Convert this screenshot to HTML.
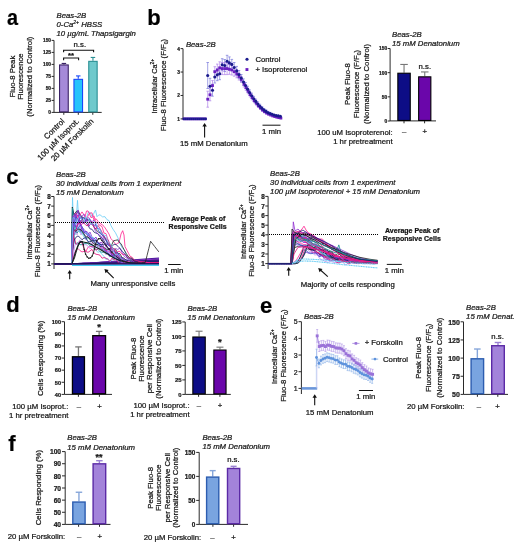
<!DOCTYPE html>
<html><head><meta charset="utf-8"><style>
html,body{margin:0;padding:0;background:#fff;}
svg{display:block;font-family:"Liberation Sans",sans-serif;filter:blur(0.3px);}
text{stroke:#1a1a1a;stroke-width:0.24px;}
text.nl{stroke:none;}
</style></head><body>
<svg width="518" height="550" viewBox="0 0 518 550">
<rect width="518" height="550" fill="#fff"/>
<text x="7.1" y="24.8" font-size="21.5" font-weight="bold" fill="#000" textLength="11.0" lengthAdjust="spacingAndGlyphs">a</text>
<text x="56.50" y="17.60" font-size="7.75" font-style="italic" fill="#1a1a1a">Beas-2B</text>
<text x="56.50" y="26.80" font-size="7.75" font-style="italic" fill="#1a1a1a">0-Ca<tspan dy="-3" font-size="5">2+</tspan><tspan dy="3"> HBSS</tspan></text>
<text x="56.50" y="36.00" font-size="7.75" font-style="italic" fill="#1a1a1a">10 µg/mL Thapsigargin</text>
<line x1="54.00" y1="40.40" x2="54.00" y2="112.40" stroke="#2a2a2a" stroke-width="1.0"/>
<line x1="51.60" y1="112.40" x2="54.00" y2="112.40" stroke="#2a2a2a" stroke-width="1.0"/>
<text x="51.00" y="114.32" font-size="4.8" text-anchor="end" font-weight="bold" fill="#222">0</text>
<line x1="51.60" y1="100.40" x2="54.00" y2="100.40" stroke="#2a2a2a" stroke-width="1.0"/>
<text x="51.00" y="102.32" font-size="4.8" text-anchor="end" font-weight="bold" fill="#222">25</text>
<line x1="51.60" y1="88.40" x2="54.00" y2="88.40" stroke="#2a2a2a" stroke-width="1.0"/>
<text x="51.00" y="90.32" font-size="4.8" text-anchor="end" font-weight="bold" fill="#222">50</text>
<line x1="51.60" y1="76.40" x2="54.00" y2="76.40" stroke="#2a2a2a" stroke-width="1.0"/>
<text x="51.00" y="78.32" font-size="4.8" text-anchor="end" font-weight="bold" fill="#222">75</text>
<line x1="51.60" y1="64.40" x2="54.00" y2="64.40" stroke="#2a2a2a" stroke-width="1.0"/>
<text x="51.00" y="66.32" font-size="4.8" text-anchor="end" font-weight="bold" fill="#222">100</text>
<line x1="51.60" y1="52.40" x2="54.00" y2="52.40" stroke="#2a2a2a" stroke-width="1.0"/>
<text x="51.00" y="54.32" font-size="4.8" text-anchor="end" font-weight="bold" fill="#222">125</text>
<line x1="51.60" y1="40.40" x2="54.00" y2="40.40" stroke="#2a2a2a" stroke-width="1.0"/>
<text x="51.00" y="42.32" font-size="4.8" text-anchor="end" font-weight="bold" fill="#222">150</text>
<line x1="54.00" y1="112.40" x2="101.70" y2="112.40" stroke="#2a2a2a" stroke-width="1.0"/>
<line x1="63.80" y1="112.40" x2="63.80" y2="114.80" stroke="#2a2a2a" stroke-width="1.0"/>
<line x1="78.30" y1="112.40" x2="78.30" y2="114.80" stroke="#2a2a2a" stroke-width="1.0"/>
<line x1="92.80" y1="112.40" x2="92.80" y2="114.80" stroke="#2a2a2a" stroke-width="1.0"/>
<line x1="63.90" y1="64.40" x2="63.90" y2="63.44" stroke="#3a2266" stroke-width="1.1"/>
<line x1="61.65" y1="63.44" x2="66.15" y2="63.44" stroke="#3a2266" stroke-width="1.1"/>
<rect x="59.55" y="64.95" width="8.70" height="46.90" fill="#a58ad8" stroke="#3a2266" stroke-width="1.1"/>
<line x1="78.25" y1="78.80" x2="78.25" y2="75.92" stroke="#1848f8" stroke-width="1.1"/>
<line x1="76.00" y1="75.92" x2="80.50" y2="75.92" stroke="#1848f8" stroke-width="1.1"/>
<rect x="73.95" y="79.35" width="8.60" height="32.50" fill="#25c3fb" stroke="#1848f8" stroke-width="1.1"/>
<line x1="92.95" y1="60.80" x2="92.95" y2="57.44" stroke="#2a8f94" stroke-width="1.1"/>
<line x1="90.70" y1="57.44" x2="95.20" y2="57.44" stroke="#2a8f94" stroke-width="1.1"/>
<rect x="88.75" y="61.35" width="8.40" height="50.50" fill="#6fc9cc" stroke="#2a8f94" stroke-width="1.1"/>
<path d="M63.6,52.2 V50.2 H93.6 V52.2" fill="none" stroke="#111" stroke-width="1.1"/>
<path d="M63.6,60.3 V58.0 H78.6 V60.3" fill="none" stroke="#111" stroke-width="1.1"/>
<text x="79.80" y="46.80" font-size="7.75" text-anchor="middle" fill="#111">n.s.</text>
<text x="71.00" y="58.40" font-size="7.6" text-anchor="middle" font-weight="bold" fill="#111">**</text>
<text x="65.00" y="121.80" font-size="7.9" text-anchor="end" fill="#111" transform="rotate(-45 65.0 121.8)">Control</text>
<text x="79.50" y="121.80" font-size="7.9" text-anchor="end" fill="#111" transform="rotate(-45 79.5 121.8)">100 µM Isoprot.</text>
<text x="94.00" y="121.80" font-size="7.9" text-anchor="end" fill="#111" transform="rotate(-45 94.0 121.8)">20 µM Forskolin</text>
<text x="14.90" y="76.60" font-size="7.75" text-anchor="middle" fill="#111" transform="rotate(-90 14.9 76.6)">Fluo-8 Peak</text>
<text x="23.50" y="76.60" font-size="7.75" text-anchor="middle" fill="#111" transform="rotate(-90 23.5 76.6)">Fluorescence</text>
<text x="32.10" y="76.60" font-size="7.75" text-anchor="middle" fill="#111" transform="rotate(-90 32.1 76.6)">(Normalized to Control)</text>
<text x="147.30" y="24.50" font-size="22" font-weight="bold" fill="#000">b</text>
<text x="185.90" y="47.00" font-size="7.75" font-style="italic" fill="#1a1a1a">Beas-2B</text>
<line x1="183.00" y1="48.61" x2="183.00" y2="119.50" stroke="#2a2a2a" stroke-width="1.0"/>
<line x1="180.60" y1="118.90" x2="183.00" y2="118.90" stroke="#2a2a2a" stroke-width="1.0"/>
<text x="180.00" y="120.82" font-size="4.8" text-anchor="end" font-weight="bold" fill="#222">1</text>
<line x1="180.60" y1="95.47" x2="183.00" y2="95.47" stroke="#2a2a2a" stroke-width="1.0"/>
<text x="180.00" y="97.39" font-size="4.8" text-anchor="end" font-weight="bold" fill="#222">2</text>
<line x1="180.60" y1="72.04" x2="183.00" y2="72.04" stroke="#2a2a2a" stroke-width="1.0"/>
<text x="180.00" y="73.96" font-size="4.8" text-anchor="end" font-weight="bold" fill="#222">3</text>
<line x1="180.60" y1="48.61" x2="183.00" y2="48.61" stroke="#2a2a2a" stroke-width="1.0"/>
<text x="180.00" y="50.53" font-size="4.8" text-anchor="end" font-weight="bold" fill="#222">4</text>
<text x="157.10" y="86.20" font-size="7.3" text-anchor="middle" fill="#111" transform="rotate(-90 157.1 86.2)">Intracellular Ca<tspan dy="-3" font-size="5">2+</tspan></text>
<text x="166.20" y="85.00" font-size="7.75" text-anchor="middle" fill="#111" transform="rotate(-90 166.2 85.0)">Fluo-8 Fluorescence (F/F<tspan dy="1.6" font-size="5">0</tspan><tspan dy="-1.6">)</tspan></text>
<line x1="207.70" y1="62.50" x2="207.70" y2="88.50" stroke="#7070d8" stroke-width="0.65"/>
<line x1="206.40" y1="62.50" x2="209.00" y2="62.50" stroke="#7070d8" stroke-width="0.65"/>
<line x1="206.40" y1="88.50" x2="209.00" y2="88.50" stroke="#7070d8" stroke-width="0.65"/>
<line x1="210.00" y1="78.30" x2="210.00" y2="94.30" stroke="#7070d8" stroke-width="0.65"/>
<line x1="208.70" y1="78.30" x2="211.30" y2="78.30" stroke="#7070d8" stroke-width="0.65"/>
<line x1="208.70" y1="94.30" x2="211.30" y2="94.30" stroke="#7070d8" stroke-width="0.65"/>
<line x1="212.50" y1="84.20" x2="212.50" y2="96.20" stroke="#7070d8" stroke-width="0.65"/>
<line x1="211.20" y1="84.20" x2="213.80" y2="84.20" stroke="#7070d8" stroke-width="0.65"/>
<line x1="211.20" y1="96.20" x2="213.80" y2="96.20" stroke="#7070d8" stroke-width="0.65"/>
<line x1="214.80" y1="71.00" x2="214.80" y2="83.00" stroke="#7070d8" stroke-width="0.65"/>
<line x1="213.50" y1="71.00" x2="216.10" y2="71.00" stroke="#7070d8" stroke-width="0.65"/>
<line x1="213.50" y1="83.00" x2="216.10" y2="83.00" stroke="#7070d8" stroke-width="0.65"/>
<line x1="217.30" y1="68.70" x2="217.30" y2="80.70" stroke="#7070d8" stroke-width="0.65"/>
<line x1="216.00" y1="68.70" x2="218.60" y2="68.70" stroke="#7070d8" stroke-width="0.65"/>
<line x1="216.00" y1="80.70" x2="218.60" y2="80.70" stroke="#7070d8" stroke-width="0.65"/>
<line x1="219.70" y1="67.70" x2="219.70" y2="79.70" stroke="#7070d8" stroke-width="0.65"/>
<line x1="218.40" y1="67.70" x2="221.00" y2="67.70" stroke="#7070d8" stroke-width="0.65"/>
<line x1="218.40" y1="79.70" x2="221.00" y2="79.70" stroke="#7070d8" stroke-width="0.65"/>
<line x1="222.20" y1="58.70" x2="222.20" y2="70.70" stroke="#7070d8" stroke-width="0.65"/>
<line x1="220.90" y1="58.70" x2="223.50" y2="58.70" stroke="#7070d8" stroke-width="0.65"/>
<line x1="220.90" y1="70.70" x2="223.50" y2="70.70" stroke="#7070d8" stroke-width="0.65"/>
<line x1="224.70" y1="59.50" x2="224.70" y2="71.50" stroke="#7070d8" stroke-width="0.65"/>
<line x1="223.40" y1="59.50" x2="226.00" y2="59.50" stroke="#7070d8" stroke-width="0.65"/>
<line x1="223.40" y1="71.50" x2="226.00" y2="71.50" stroke="#7070d8" stroke-width="0.65"/>
<line x1="227.10" y1="55.30" x2="227.10" y2="67.30" stroke="#7070d8" stroke-width="0.65"/>
<line x1="225.80" y1="55.30" x2="228.40" y2="55.30" stroke="#7070d8" stroke-width="0.65"/>
<line x1="225.80" y1="67.30" x2="228.40" y2="67.30" stroke="#7070d8" stroke-width="0.65"/>
<line x1="229.40" y1="56.90" x2="229.40" y2="68.90" stroke="#7070d8" stroke-width="0.65"/>
<line x1="228.10" y1="56.90" x2="230.70" y2="56.90" stroke="#7070d8" stroke-width="0.65"/>
<line x1="228.10" y1="68.90" x2="230.70" y2="68.90" stroke="#7070d8" stroke-width="0.65"/>
<line x1="231.80" y1="59.40" x2="231.80" y2="69.40" stroke="#7070d8" stroke-width="0.65"/>
<line x1="230.50" y1="59.40" x2="233.10" y2="59.40" stroke="#7070d8" stroke-width="0.65"/>
<line x1="230.50" y1="69.40" x2="233.10" y2="69.40" stroke="#7070d8" stroke-width="0.65"/>
<line x1="234.20" y1="62.50" x2="234.20" y2="72.50" stroke="#7070d8" stroke-width="0.65"/>
<line x1="232.90" y1="62.50" x2="235.50" y2="62.50" stroke="#7070d8" stroke-width="0.65"/>
<line x1="232.90" y1="72.50" x2="235.50" y2="72.50" stroke="#7070d8" stroke-width="0.65"/>
<line x1="236.70" y1="66.40" x2="236.70" y2="75.40" stroke="#7070d8" stroke-width="0.65"/>
<line x1="235.40" y1="66.40" x2="238.00" y2="66.40" stroke="#7070d8" stroke-width="0.65"/>
<line x1="235.40" y1="75.40" x2="238.00" y2="75.40" stroke="#7070d8" stroke-width="0.65"/>
<line x1="239.00" y1="70.50" x2="239.00" y2="78.50" stroke="#7070d8" stroke-width="0.65"/>
<line x1="237.70" y1="70.50" x2="240.30" y2="70.50" stroke="#7070d8" stroke-width="0.65"/>
<line x1="237.70" y1="78.50" x2="240.30" y2="78.50" stroke="#7070d8" stroke-width="0.65"/>
<line x1="241.30" y1="74.50" x2="241.30" y2="81.50" stroke="#7070d8" stroke-width="0.65"/>
<line x1="240.00" y1="74.50" x2="242.60" y2="74.50" stroke="#7070d8" stroke-width="0.65"/>
<line x1="240.00" y1="81.50" x2="242.60" y2="81.50" stroke="#7070d8" stroke-width="0.65"/>
<line x1="243.50" y1="78.88" x2="243.50" y2="85.28" stroke="#7070d8" stroke-width="0.65"/>
<line x1="242.20" y1="78.88" x2="244.80" y2="78.88" stroke="#7070d8" stroke-width="0.65"/>
<line x1="242.20" y1="85.28" x2="244.80" y2="85.28" stroke="#7070d8" stroke-width="0.65"/>
<line x1="245.55" y1="82.51" x2="245.55" y2="88.59" stroke="#7070d8" stroke-width="0.65"/>
<line x1="244.25" y1="82.51" x2="246.85" y2="82.51" stroke="#7070d8" stroke-width="0.65"/>
<line x1="244.25" y1="88.59" x2="246.85" y2="88.59" stroke="#7070d8" stroke-width="0.65"/>
<line x1="247.60" y1="86.29" x2="247.60" y2="92.05" stroke="#7070d8" stroke-width="0.65"/>
<line x1="246.30" y1="86.29" x2="248.90" y2="86.29" stroke="#7070d8" stroke-width="0.65"/>
<line x1="246.30" y1="92.05" x2="248.90" y2="92.05" stroke="#7070d8" stroke-width="0.65"/>
<line x1="249.65" y1="89.95" x2="249.65" y2="95.39" stroke="#7070d8" stroke-width="0.65"/>
<line x1="248.35" y1="89.95" x2="250.95" y2="89.95" stroke="#7070d8" stroke-width="0.65"/>
<line x1="248.35" y1="95.39" x2="250.95" y2="95.39" stroke="#7070d8" stroke-width="0.65"/>
<line x1="251.70" y1="93.16" x2="251.70" y2="98.28" stroke="#7070d8" stroke-width="0.65"/>
<line x1="250.40" y1="93.16" x2="253.00" y2="93.16" stroke="#7070d8" stroke-width="0.65"/>
<line x1="250.40" y1="98.28" x2="253.00" y2="98.28" stroke="#7070d8" stroke-width="0.65"/>
<line x1="253.75" y1="96.38" x2="253.75" y2="101.18" stroke="#7070d8" stroke-width="0.65"/>
<line x1="252.45" y1="96.38" x2="255.05" y2="96.38" stroke="#7070d8" stroke-width="0.65"/>
<line x1="252.45" y1="101.18" x2="255.05" y2="101.18" stroke="#7070d8" stroke-width="0.65"/>
<line x1="255.80" y1="99.14" x2="255.80" y2="103.62" stroke="#7070d8" stroke-width="0.65"/>
<line x1="254.50" y1="99.14" x2="257.10" y2="99.14" stroke="#7070d8" stroke-width="0.65"/>
<line x1="254.50" y1="103.62" x2="257.10" y2="103.62" stroke="#7070d8" stroke-width="0.65"/>
<line x1="257.85" y1="101.86" x2="257.85" y2="106.02" stroke="#7070d8" stroke-width="0.65"/>
<line x1="256.55" y1="101.86" x2="259.15" y2="101.86" stroke="#7070d8" stroke-width="0.65"/>
<line x1="256.55" y1="106.02" x2="259.15" y2="106.02" stroke="#7070d8" stroke-width="0.65"/>
<line x1="259.90" y1="104.28" x2="259.90" y2="108.12" stroke="#7070d8" stroke-width="0.65"/>
<line x1="258.60" y1="104.28" x2="261.20" y2="104.28" stroke="#7070d8" stroke-width="0.65"/>
<line x1="258.60" y1="108.12" x2="261.20" y2="108.12" stroke="#7070d8" stroke-width="0.65"/>
<line x1="261.95" y1="106.49" x2="261.95" y2="110.01" stroke="#7070d8" stroke-width="0.65"/>
<line x1="260.65" y1="106.49" x2="263.25" y2="106.49" stroke="#7070d8" stroke-width="0.65"/>
<line x1="260.65" y1="110.01" x2="263.25" y2="110.01" stroke="#7070d8" stroke-width="0.65"/>
<line x1="264.00" y1="108.48" x2="264.00" y2="111.68" stroke="#7070d8" stroke-width="0.65"/>
<line x1="262.70" y1="108.48" x2="265.30" y2="108.48" stroke="#7070d8" stroke-width="0.65"/>
<line x1="262.70" y1="111.68" x2="265.30" y2="111.68" stroke="#7070d8" stroke-width="0.65"/>
<line x1="266.05" y1="109.95" x2="266.05" y2="112.83" stroke="#7070d8" stroke-width="0.65"/>
<line x1="264.75" y1="109.95" x2="267.35" y2="109.95" stroke="#7070d8" stroke-width="0.65"/>
<line x1="264.75" y1="112.83" x2="267.35" y2="112.83" stroke="#7070d8" stroke-width="0.65"/>
<line x1="268.10" y1="111.42" x2="268.10" y2="113.98" stroke="#7070d8" stroke-width="0.65"/>
<line x1="266.80" y1="111.42" x2="269.40" y2="111.42" stroke="#7070d8" stroke-width="0.65"/>
<line x1="266.80" y1="113.98" x2="269.40" y2="113.98" stroke="#7070d8" stroke-width="0.65"/>
<line x1="270.15" y1="112.39" x2="270.15" y2="114.63" stroke="#7070d8" stroke-width="0.65"/>
<line x1="268.85" y1="112.39" x2="271.45" y2="112.39" stroke="#7070d8" stroke-width="0.65"/>
<line x1="268.85" y1="114.63" x2="271.45" y2="114.63" stroke="#7070d8" stroke-width="0.65"/>
<line x1="207.70" y1="91.20" x2="207.70" y2="107.20" stroke="#a878e8" stroke-width="0.65"/>
<line x1="206.40" y1="91.20" x2="209.00" y2="91.20" stroke="#a878e8" stroke-width="0.65"/>
<line x1="206.40" y1="107.20" x2="209.00" y2="107.20" stroke="#a878e8" stroke-width="0.65"/>
<line x1="210.00" y1="88.80" x2="210.00" y2="100.80" stroke="#a878e8" stroke-width="0.65"/>
<line x1="208.70" y1="88.80" x2="211.30" y2="88.80" stroke="#a878e8" stroke-width="0.65"/>
<line x1="208.70" y1="100.80" x2="211.30" y2="100.80" stroke="#a878e8" stroke-width="0.65"/>
<line x1="212.50" y1="80.60" x2="212.50" y2="90.60" stroke="#a878e8" stroke-width="0.65"/>
<line x1="211.20" y1="80.60" x2="213.80" y2="80.60" stroke="#a878e8" stroke-width="0.65"/>
<line x1="211.20" y1="90.60" x2="213.80" y2="90.60" stroke="#a878e8" stroke-width="0.65"/>
<line x1="214.80" y1="66.70" x2="214.80" y2="76.70" stroke="#a878e8" stroke-width="0.65"/>
<line x1="213.50" y1="66.70" x2="216.10" y2="66.70" stroke="#a878e8" stroke-width="0.65"/>
<line x1="213.50" y1="76.70" x2="216.10" y2="76.70" stroke="#a878e8" stroke-width="0.65"/>
<line x1="217.30" y1="64.10" x2="217.30" y2="76.10" stroke="#a878e8" stroke-width="0.65"/>
<line x1="216.00" y1="64.10" x2="218.60" y2="64.10" stroke="#a878e8" stroke-width="0.65"/>
<line x1="216.00" y1="76.10" x2="218.60" y2="76.10" stroke="#a878e8" stroke-width="0.65"/>
<line x1="219.70" y1="61.80" x2="219.70" y2="73.80" stroke="#a878e8" stroke-width="0.65"/>
<line x1="218.40" y1="61.80" x2="221.00" y2="61.80" stroke="#a878e8" stroke-width="0.65"/>
<line x1="218.40" y1="73.80" x2="221.00" y2="73.80" stroke="#a878e8" stroke-width="0.65"/>
<line x1="222.20" y1="62.60" x2="222.20" y2="74.60" stroke="#a878e8" stroke-width="0.65"/>
<line x1="220.90" y1="62.60" x2="223.50" y2="62.60" stroke="#a878e8" stroke-width="0.65"/>
<line x1="220.90" y1="74.60" x2="223.50" y2="74.60" stroke="#a878e8" stroke-width="0.65"/>
<line x1="224.70" y1="62.60" x2="224.70" y2="74.60" stroke="#a878e8" stroke-width="0.65"/>
<line x1="223.40" y1="62.60" x2="226.00" y2="62.60" stroke="#a878e8" stroke-width="0.65"/>
<line x1="223.40" y1="74.60" x2="226.00" y2="74.60" stroke="#a878e8" stroke-width="0.65"/>
<line x1="227.10" y1="62.60" x2="227.10" y2="74.60" stroke="#a878e8" stroke-width="0.65"/>
<line x1="225.80" y1="62.60" x2="228.40" y2="62.60" stroke="#a878e8" stroke-width="0.65"/>
<line x1="225.80" y1="74.60" x2="228.40" y2="74.60" stroke="#a878e8" stroke-width="0.65"/>
<line x1="229.40" y1="64.30" x2="229.40" y2="74.30" stroke="#a878e8" stroke-width="0.65"/>
<line x1="228.10" y1="64.30" x2="230.70" y2="64.30" stroke="#a878e8" stroke-width="0.65"/>
<line x1="228.10" y1="74.30" x2="230.70" y2="74.30" stroke="#a878e8" stroke-width="0.65"/>
<line x1="231.80" y1="65.00" x2="231.80" y2="75.00" stroke="#a878e8" stroke-width="0.65"/>
<line x1="230.50" y1="65.00" x2="233.10" y2="65.00" stroke="#a878e8" stroke-width="0.65"/>
<line x1="230.50" y1="75.00" x2="233.10" y2="75.00" stroke="#a878e8" stroke-width="0.65"/>
<line x1="234.20" y1="67.20" x2="234.20" y2="76.20" stroke="#a878e8" stroke-width="0.65"/>
<line x1="232.90" y1="67.20" x2="235.50" y2="67.20" stroke="#a878e8" stroke-width="0.65"/>
<line x1="232.90" y1="76.20" x2="235.50" y2="76.20" stroke="#a878e8" stroke-width="0.65"/>
<line x1="236.70" y1="69.80" x2="236.70" y2="77.80" stroke="#a878e8" stroke-width="0.65"/>
<line x1="235.40" y1="69.80" x2="238.00" y2="69.80" stroke="#a878e8" stroke-width="0.65"/>
<line x1="235.40" y1="77.80" x2="238.00" y2="77.80" stroke="#a878e8" stroke-width="0.65"/>
<line x1="239.00" y1="73.00" x2="239.00" y2="80.00" stroke="#a878e8" stroke-width="0.65"/>
<line x1="237.70" y1="73.00" x2="240.30" y2="73.00" stroke="#a878e8" stroke-width="0.65"/>
<line x1="237.70" y1="80.00" x2="240.30" y2="80.00" stroke="#a878e8" stroke-width="0.65"/>
<line x1="241.30" y1="76.50" x2="241.30" y2="82.50" stroke="#a878e8" stroke-width="0.65"/>
<line x1="240.00" y1="76.50" x2="242.60" y2="76.50" stroke="#a878e8" stroke-width="0.65"/>
<line x1="240.00" y1="82.50" x2="242.60" y2="82.50" stroke="#a878e8" stroke-width="0.65"/>
<line x1="244.00" y1="81.42" x2="244.00" y2="87.02" stroke="#a878e8" stroke-width="0.65"/>
<line x1="242.70" y1="81.42" x2="245.30" y2="81.42" stroke="#a878e8" stroke-width="0.65"/>
<line x1="242.70" y1="87.02" x2="245.30" y2="87.02" stroke="#a878e8" stroke-width="0.65"/>
<line x1="246.05" y1="85.05" x2="246.05" y2="90.35" stroke="#a878e8" stroke-width="0.65"/>
<line x1="244.75" y1="85.05" x2="247.35" y2="85.05" stroke="#a878e8" stroke-width="0.65"/>
<line x1="244.75" y1="90.35" x2="247.35" y2="90.35" stroke="#a878e8" stroke-width="0.65"/>
<line x1="248.10" y1="88.78" x2="248.10" y2="93.78" stroke="#a878e8" stroke-width="0.65"/>
<line x1="246.80" y1="88.78" x2="249.40" y2="88.78" stroke="#a878e8" stroke-width="0.65"/>
<line x1="246.80" y1="93.78" x2="249.40" y2="93.78" stroke="#a878e8" stroke-width="0.65"/>
<line x1="250.15" y1="92.26" x2="250.15" y2="96.96" stroke="#a878e8" stroke-width="0.65"/>
<line x1="248.85" y1="92.26" x2="251.45" y2="92.26" stroke="#a878e8" stroke-width="0.65"/>
<line x1="248.85" y1="96.96" x2="251.45" y2="96.96" stroke="#a878e8" stroke-width="0.65"/>
<line x1="252.20" y1="95.47" x2="252.20" y2="99.87" stroke="#a878e8" stroke-width="0.65"/>
<line x1="250.90" y1="95.47" x2="253.50" y2="95.47" stroke="#a878e8" stroke-width="0.65"/>
<line x1="250.90" y1="99.87" x2="253.50" y2="99.87" stroke="#a878e8" stroke-width="0.65"/>
<line x1="254.25" y1="98.59" x2="254.25" y2="102.69" stroke="#a878e8" stroke-width="0.65"/>
<line x1="252.95" y1="98.59" x2="255.55" y2="98.59" stroke="#a878e8" stroke-width="0.65"/>
<line x1="252.95" y1="102.69" x2="255.55" y2="102.69" stroke="#a878e8" stroke-width="0.65"/>
<line x1="256.30" y1="101.30" x2="256.30" y2="105.10" stroke="#a878e8" stroke-width="0.65"/>
<line x1="255.00" y1="101.30" x2="257.60" y2="101.30" stroke="#a878e8" stroke-width="0.65"/>
<line x1="255.00" y1="105.10" x2="257.60" y2="105.10" stroke="#a878e8" stroke-width="0.65"/>
<line x1="258.35" y1="104.01" x2="258.35" y2="107.51" stroke="#a878e8" stroke-width="0.65"/>
<line x1="257.05" y1="104.01" x2="259.65" y2="104.01" stroke="#a878e8" stroke-width="0.65"/>
<line x1="257.05" y1="107.51" x2="259.65" y2="107.51" stroke="#a878e8" stroke-width="0.65"/>
<line x1="260.40" y1="106.30" x2="260.40" y2="109.50" stroke="#a878e8" stroke-width="0.65"/>
<line x1="259.10" y1="106.30" x2="261.70" y2="106.30" stroke="#a878e8" stroke-width="0.65"/>
<line x1="259.10" y1="109.50" x2="261.70" y2="109.50" stroke="#a878e8" stroke-width="0.65"/>
<line x1="262.45" y1="108.50" x2="262.45" y2="111.40" stroke="#a878e8" stroke-width="0.65"/>
<line x1="261.15" y1="108.50" x2="263.75" y2="108.50" stroke="#a878e8" stroke-width="0.65"/>
<line x1="261.15" y1="111.40" x2="263.75" y2="111.40" stroke="#a878e8" stroke-width="0.65"/>
<line x1="264.50" y1="110.33" x2="264.50" y2="112.93" stroke="#a878e8" stroke-width="0.65"/>
<line x1="263.20" y1="110.33" x2="265.80" y2="110.33" stroke="#a878e8" stroke-width="0.65"/>
<line x1="263.20" y1="112.93" x2="265.80" y2="112.93" stroke="#a878e8" stroke-width="0.65"/>
<line x1="266.55" y1="111.83" x2="266.55" y2="114.13" stroke="#a878e8" stroke-width="0.65"/>
<line x1="265.25" y1="111.83" x2="267.85" y2="111.83" stroke="#a878e8" stroke-width="0.65"/>
<line x1="265.25" y1="114.13" x2="267.85" y2="114.13" stroke="#a878e8" stroke-width="0.65"/>
<rect x="182.70" y="117.60" width="2.60" height="2.60" fill="#6a1ec0"/>
<circle cx="184.00" cy="118.90" r="1.45" fill="#1a1a8c"/>
<rect x="184.65" y="117.60" width="2.60" height="2.60" fill="#6a1ec0"/>
<circle cx="185.95" cy="118.90" r="1.45" fill="#1a1a8c"/>
<rect x="186.60" y="117.60" width="2.60" height="2.60" fill="#6a1ec0"/>
<circle cx="187.90" cy="118.90" r="1.45" fill="#1a1a8c"/>
<rect x="188.55" y="117.60" width="2.60" height="2.60" fill="#6a1ec0"/>
<circle cx="189.85" cy="118.90" r="1.45" fill="#1a1a8c"/>
<rect x="190.50" y="117.60" width="2.60" height="2.60" fill="#6a1ec0"/>
<circle cx="191.80" cy="118.90" r="1.45" fill="#1a1a8c"/>
<rect x="192.45" y="117.60" width="2.60" height="2.60" fill="#6a1ec0"/>
<circle cx="193.75" cy="118.90" r="1.45" fill="#1a1a8c"/>
<rect x="194.40" y="117.60" width="2.60" height="2.60" fill="#6a1ec0"/>
<circle cx="195.70" cy="118.90" r="1.45" fill="#1a1a8c"/>
<rect x="196.35" y="117.60" width="2.60" height="2.60" fill="#6a1ec0"/>
<circle cx="197.65" cy="118.90" r="1.45" fill="#1a1a8c"/>
<rect x="198.30" y="117.60" width="2.60" height="2.60" fill="#6a1ec0"/>
<circle cx="199.60" cy="118.90" r="1.45" fill="#1a1a8c"/>
<rect x="200.25" y="117.60" width="2.60" height="2.60" fill="#6a1ec0"/>
<circle cx="201.55" cy="118.90" r="1.45" fill="#1a1a8c"/>
<rect x="202.20" y="117.60" width="2.60" height="2.60" fill="#6a1ec0"/>
<circle cx="203.50" cy="118.90" r="1.45" fill="#1a1a8c"/>
<rect x="204.15" y="117.60" width="2.60" height="2.60" fill="#6a1ec0"/>
<circle cx="205.45" cy="118.90" r="1.45" fill="#1a1a8c"/>
<rect x="206.30" y="97.80" width="2.80" height="2.80" fill="#6a1ec0"/>
<rect x="208.60" y="93.40" width="2.80" height="2.80" fill="#6a1ec0"/>
<rect x="211.10" y="84.20" width="2.80" height="2.80" fill="#6a1ec0"/>
<rect x="213.40" y="70.30" width="2.80" height="2.80" fill="#6a1ec0"/>
<rect x="215.90" y="68.70" width="2.80" height="2.80" fill="#6a1ec0"/>
<rect x="218.30" y="66.40" width="2.80" height="2.80" fill="#6a1ec0"/>
<rect x="220.80" y="67.20" width="2.80" height="2.80" fill="#6a1ec0"/>
<rect x="223.30" y="67.20" width="2.80" height="2.80" fill="#6a1ec0"/>
<rect x="225.70" y="67.20" width="2.80" height="2.80" fill="#6a1ec0"/>
<rect x="228.00" y="67.90" width="2.80" height="2.80" fill="#6a1ec0"/>
<rect x="230.40" y="68.60" width="2.80" height="2.80" fill="#6a1ec0"/>
<rect x="232.80" y="70.30" width="2.80" height="2.80" fill="#6a1ec0"/>
<rect x="235.30" y="72.40" width="2.80" height="2.80" fill="#6a1ec0"/>
<rect x="237.60" y="75.10" width="2.80" height="2.80" fill="#6a1ec0"/>
<rect x="239.90" y="78.10" width="2.80" height="2.80" fill="#6a1ec0"/>
<rect x="242.60" y="82.82" width="2.80" height="2.80" fill="#6a1ec0"/>
<rect x="244.65" y="86.30" width="2.80" height="2.80" fill="#6a1ec0"/>
<rect x="246.70" y="89.88" width="2.80" height="2.80" fill="#6a1ec0"/>
<rect x="248.75" y="93.21" width="2.80" height="2.80" fill="#6a1ec0"/>
<rect x="250.80" y="96.27" width="2.80" height="2.80" fill="#6a1ec0"/>
<rect x="252.85" y="99.24" width="2.80" height="2.80" fill="#6a1ec0"/>
<rect x="254.90" y="101.80" width="2.80" height="2.80" fill="#6a1ec0"/>
<rect x="256.95" y="104.36" width="2.80" height="2.80" fill="#6a1ec0"/>
<rect x="259.00" y="106.50" width="2.80" height="2.80" fill="#6a1ec0"/>
<rect x="261.05" y="108.55" width="2.80" height="2.80" fill="#6a1ec0"/>
<rect x="263.10" y="110.23" width="2.80" height="2.80" fill="#6a1ec0"/>
<rect x="265.15" y="111.58" width="2.80" height="2.80" fill="#6a1ec0"/>
<rect x="267.20" y="112.81" width="2.80" height="2.80" fill="#6a1ec0"/>
<rect x="269.25" y="113.66" width="2.80" height="2.80" fill="#6a1ec0"/>
<rect x="271.30" y="114.52" width="2.80" height="2.80" fill="#6a1ec0"/>
<rect x="273.35" y="115.17" width="2.80" height="2.80" fill="#6a1ec0"/>
<rect x="275.40" y="115.80" width="2.80" height="2.80" fill="#6a1ec0"/>
<rect x="277.45" y="116.26" width="2.80" height="2.80" fill="#6a1ec0"/>
<rect x="279.50" y="116.71" width="2.80" height="2.80" fill="#6a1ec0"/>
<circle cx="207.70" cy="75.50" r="1.55" fill="#1a1a8c"/>
<circle cx="210.00" cy="86.30" r="1.55" fill="#1a1a8c"/>
<circle cx="212.50" cy="90.20" r="1.55" fill="#1a1a8c"/>
<circle cx="214.80" cy="77.00" r="1.55" fill="#1a1a8c"/>
<circle cx="217.30" cy="74.70" r="1.55" fill="#1a1a8c"/>
<circle cx="219.70" cy="73.70" r="1.55" fill="#1a1a8c"/>
<circle cx="222.20" cy="64.70" r="1.55" fill="#1a1a8c"/>
<circle cx="224.70" cy="65.50" r="1.55" fill="#1a1a8c"/>
<circle cx="227.10" cy="61.30" r="1.55" fill="#1a1a8c"/>
<circle cx="229.40" cy="62.90" r="1.55" fill="#1a1a8c"/>
<circle cx="231.80" cy="64.40" r="1.55" fill="#1a1a8c"/>
<circle cx="234.20" cy="67.50" r="1.55" fill="#1a1a8c"/>
<circle cx="236.70" cy="70.90" r="1.55" fill="#1a1a8c"/>
<circle cx="239.00" cy="74.50" r="1.55" fill="#1a1a8c"/>
<circle cx="241.30" cy="78.00" r="1.55" fill="#1a1a8c"/>
<circle cx="243.50" cy="82.08" r="1.55" fill="#1a1a8c"/>
<circle cx="245.55" cy="85.55" r="1.55" fill="#1a1a8c"/>
<circle cx="247.60" cy="89.17" r="1.55" fill="#1a1a8c"/>
<circle cx="249.65" cy="92.67" r="1.55" fill="#1a1a8c"/>
<circle cx="251.70" cy="95.72" r="1.55" fill="#1a1a8c"/>
<circle cx="253.75" cy="98.78" r="1.55" fill="#1a1a8c"/>
<circle cx="255.80" cy="101.38" r="1.55" fill="#1a1a8c"/>
<circle cx="257.85" cy="103.94" r="1.55" fill="#1a1a8c"/>
<circle cx="259.90" cy="106.20" r="1.55" fill="#1a1a8c"/>
<circle cx="261.95" cy="108.25" r="1.55" fill="#1a1a8c"/>
<circle cx="264.00" cy="110.08" r="1.55" fill="#1a1a8c"/>
<circle cx="266.05" cy="111.39" r="1.55" fill="#1a1a8c"/>
<circle cx="268.10" cy="112.70" r="1.55" fill="#1a1a8c"/>
<circle cx="270.15" cy="113.51" r="1.55" fill="#1a1a8c"/>
<circle cx="272.20" cy="114.32" r="1.55" fill="#1a1a8c"/>
<circle cx="274.25" cy="114.95" r="1.55" fill="#1a1a8c"/>
<circle cx="276.30" cy="115.47" r="1.55" fill="#1a1a8c"/>
<circle cx="278.35" cy="115.90" r="1.55" fill="#1a1a8c"/>
<circle cx="280.40" cy="116.29" r="1.55" fill="#1a1a8c"/>
<circle cx="247.00" cy="59.30" r="1.55" fill="#1a1a8c"/>
<text x="255.40" y="61.80" font-size="7.75" fill="#111">Control</text>
<rect x="245.50" y="68.10" width="2.90" height="2.90" fill="#6a1ec0"/>
<text x="255.40" y="72.20" font-size="7.75" fill="#111">+ Isoproterenol</text>
<line x1="262.50" y1="125.20" x2="280.50" y2="125.20" stroke="#111" stroke-width="1.0"/>
<text x="271.50" y="134.40" font-size="7.75" text-anchor="middle" fill="#111">1 min</text>
<line x1="204.60" y1="125.10" x2="204.60" y2="137.60" stroke="#111" stroke-width="1.1"/>
<path d="M204.60,123.00 L202.40,126.50 L206.80,126.50 Z" fill="#111"/>
<text x="180.00" y="146.40" font-size="7.75" fill="#111">15 mM Denatonium</text>
<text x="392.00" y="37.40" font-size="7.75" font-style="italic" fill="#1a1a1a">Beas-2B</text>
<text x="392.00" y="46.30" font-size="7.75" font-style="italic" fill="#1a1a1a">15 mM Denatonium</text>
<line x1="390.10" y1="48.50" x2="390.10" y2="121.00" stroke="#2a2a2a" stroke-width="1.0"/>
<line x1="387.70" y1="121.00" x2="390.10" y2="121.00" stroke="#2a2a2a" stroke-width="1.0"/>
<text x="387.10" y="122.92" font-size="4.8" text-anchor="end" font-weight="bold" fill="#222">0</text>
<line x1="387.70" y1="96.83" x2="390.10" y2="96.83" stroke="#2a2a2a" stroke-width="1.0"/>
<text x="387.10" y="98.75" font-size="4.8" text-anchor="end" font-weight="bold" fill="#222">50</text>
<line x1="387.70" y1="72.67" x2="390.10" y2="72.67" stroke="#2a2a2a" stroke-width="1.0"/>
<text x="387.10" y="74.59" font-size="4.8" text-anchor="end" font-weight="bold" fill="#222">100</text>
<line x1="387.70" y1="48.50" x2="390.10" y2="48.50" stroke="#2a2a2a" stroke-width="1.0"/>
<text x="387.10" y="50.42" font-size="4.8" text-anchor="end" font-weight="bold" fill="#222">150</text>
<line x1="390.10" y1="120.90" x2="436.00" y2="120.90" stroke="#2a2a2a" stroke-width="1.0"/>
<line x1="404.00" y1="120.90" x2="404.00" y2="123.30" stroke="#2a2a2a" stroke-width="1.0"/>
<line x1="424.60" y1="120.90" x2="424.60" y2="123.30" stroke="#2a2a2a" stroke-width="1.0"/>
<line x1="404.05" y1="72.67" x2="404.05" y2="64.45" stroke="#777" stroke-width="1.1"/>
<line x1="400.30" y1="64.45" x2="407.80" y2="64.45" stroke="#777" stroke-width="1.1"/>
<rect x="397.85" y="73.22" width="12.40" height="47.23" fill="#0d0d86" stroke="#000" stroke-width="1.1"/>
<line x1="424.75" y1="76.29" x2="424.75" y2="71.94" stroke="#777" stroke-width="1.1"/>
<line x1="421.00" y1="71.94" x2="428.50" y2="71.94" stroke="#777" stroke-width="1.1"/>
<rect x="418.65" y="76.84" width="12.20" height="43.61" fill="#6a06aa" stroke="#000" stroke-width="1.1"/>
<text x="424.80" y="68.60" font-size="7.75" text-anchor="middle" fill="#111">n.s.</text>
<text x="349.70" y="84.00" font-size="7.75" text-anchor="middle" fill="#111" transform="rotate(-90 349.7 84.0)">Peak Fluo-8</text>
<text x="359.00" y="84.00" font-size="7.75" text-anchor="middle" fill="#111" transform="rotate(-90 359.0 84.0)">Fluorescence (F/F<tspan dy="1.6" font-size="5">0</tspan><tspan dy="-1.6">)</tspan></text>
<text x="368.80" y="84.00" font-size="7.75" text-anchor="middle" fill="#111" transform="rotate(-90 368.8 84.0)">(Normalized to Control)</text>
<text x="392.60" y="134.60" font-size="7.75" text-anchor="end" fill="#111">100 uM Isoproterenol:</text>
<text x="392.60" y="143.90" font-size="7.75" text-anchor="end" fill="#111">1 hr pretreatment</text>
<text x="404.10" y="134.40" font-size="7.75" text-anchor="middle" fill="#111">–</text>
<text x="424.80" y="134.40" font-size="7.75" text-anchor="middle" fill="#111">+</text>
<text x="6.30" y="184.00" font-size="22" font-weight="bold" fill="#000">c</text>
<text x="56.00" y="177.40" font-size="7.75" font-style="italic" fill="#1a1a1a">Beas-2B</text>
<text x="56.00" y="186.05" font-size="7.75" font-style="italic" fill="#1a1a1a">30 individual cells from 1 experiment</text>
<text x="56.00" y="194.70" font-size="7.75" font-style="italic" fill="#1a1a1a">15 mM Denatonium</text>
<line x1="54.00" y1="196.49" x2="54.00" y2="269.00" stroke="#2a2a2a" stroke-width="1.0"/>
<line x1="51.20" y1="263.90" x2="54.00" y2="263.90" stroke="#2a2a2a" stroke-width="1.0"/>
<text x="50.70" y="266.42" font-size="6.3" text-anchor="end" font-weight="bold" fill="#222">1</text>
<line x1="51.20" y1="254.27" x2="54.00" y2="254.27" stroke="#2a2a2a" stroke-width="1.0"/>
<text x="50.70" y="256.79" font-size="6.3" text-anchor="end" font-weight="bold" fill="#222">2</text>
<line x1="51.20" y1="244.64" x2="54.00" y2="244.64" stroke="#2a2a2a" stroke-width="1.0"/>
<text x="50.70" y="247.16" font-size="6.3" text-anchor="end" font-weight="bold" fill="#222">3</text>
<line x1="51.20" y1="235.01" x2="54.00" y2="235.01" stroke="#2a2a2a" stroke-width="1.0"/>
<text x="50.70" y="237.53" font-size="6.3" text-anchor="end" font-weight="bold" fill="#222">4</text>
<line x1="51.20" y1="225.38" x2="54.00" y2="225.38" stroke="#2a2a2a" stroke-width="1.0"/>
<text x="50.70" y="227.90" font-size="6.3" text-anchor="end" font-weight="bold" fill="#222">5</text>
<line x1="51.20" y1="215.75" x2="54.00" y2="215.75" stroke="#2a2a2a" stroke-width="1.0"/>
<text x="50.70" y="218.27" font-size="6.3" text-anchor="end" font-weight="bold" fill="#222">6</text>
<line x1="51.20" y1="206.12" x2="54.00" y2="206.12" stroke="#2a2a2a" stroke-width="1.0"/>
<text x="50.70" y="208.64" font-size="6.3" text-anchor="end" font-weight="bold" fill="#222">7</text>
<line x1="51.20" y1="196.49" x2="54.00" y2="196.49" stroke="#2a2a2a" stroke-width="1.0"/>
<text x="50.70" y="199.01" font-size="6.3" text-anchor="end" font-weight="bold" fill="#222">8</text>
<text x="31.70" y="232.20" font-size="7.3" text-anchor="middle" fill="#111" transform="rotate(-90 31.700000000000003 232.2)">Intracellular Ca<tspan dy="-3" font-size="5">2+</tspan></text>
<text x="39.80" y="231.00" font-size="7.75" text-anchor="middle" fill="#111" transform="rotate(-90 39.8 231.0)">Fluo-8 Fluorescence (F/F<tspan dy="1.6" font-size="5">0</tspan><tspan dy="-1.6">)</tspan></text>
<polyline points="54.00,263.90 71.50,263.90 75.00,264.57 159.00,265.06" fill="none" stroke="#66ccf5" stroke-width="1.1" stroke-linejoin="round"/>
<polyline points="54.00,263.90 71.50,263.90 75.00,264.57 159.00,264.67" fill="none" stroke="#66ccf5" stroke-width="1.1" stroke-linejoin="round"/>
<polyline points="54.00,263.90 71.50,263.90 75.00,264.57 159.00,264.29" fill="none" stroke="#66ccf5" stroke-width="1.1" stroke-linejoin="round"/>
<polyline points="54.00,263.90 71.50,263.90 90.00,263.67 120.00,263.06 159.00,262.38" fill="none" stroke="#202070" stroke-width="1.1" stroke-linejoin="round"/>
<polyline points="54.00,263.90 71.50,263.90 90.00,263.42 120.00,262.12 159.00,260.67" fill="none" stroke="#9030d0" stroke-width="1.1" stroke-linejoin="round"/>
<polyline points="54.00,263.90 71.50,263.90 90.00,263.56 120.00,262.66 159.00,261.64" fill="none" stroke="#4a1a9a" stroke-width="1.1" stroke-linejoin="round"/>
<polyline points="54.00,263.90 71.50,263.90 90.00,263.37 120.00,261.94 159.00,260.33" fill="none" stroke="#e0107a" stroke-width="1.1" stroke-linejoin="round"/>
<polyline points="54.00,263.90 71.50,263.90 90.00,263.35 120.00,261.87 159.00,260.21" fill="none" stroke="#202070" stroke-width="1.1" stroke-linejoin="round"/>
<polyline points="54.00,263.90 71.50,263.90 90.00,263.82 120.00,263.59 159.00,263.34" fill="none" stroke="#9030d0" stroke-width="1.1" stroke-linejoin="round"/>
<polyline points="54.00,263.90 71.50,263.90 90.00,263.86 120.00,263.75 159.00,263.63" fill="none" stroke="#3a1a80" stroke-width="1.1" stroke-linejoin="round"/>
<polyline points="54.00,263.90 71.50,263.90 90.00,263.17 120.00,261.22 159.00,259.03" fill="none" stroke="#202070" stroke-width="1.1" stroke-linejoin="round"/>
<polyline points="54.00,263.90 71.50,263.90 90.00,263.65 120.00,263.00 159.00,262.26" fill="none" stroke="#9030d0" stroke-width="1.1" stroke-linejoin="round"/>
<polyline points="54.00,263.90 71.50,263.90 90.00,263.67 120.00,263.07 159.00,262.40" fill="none" stroke="#e0107a" stroke-width="1.1" stroke-linejoin="round"/>
<polyline points="54.00,263.90 71.50,263.90 90.00,263.04 120.00,260.74 159.00,258.15" fill="none" stroke="#4a1a9a" stroke-width="1.1" stroke-linejoin="round"/>
<polyline points="54.00,263.90 71.50,263.90 90.00,263.48 120.00,262.35 159.00,261.08" fill="none" stroke="#202070" stroke-width="1.1" stroke-linejoin="round"/>
<polyline points="54.00,263.90 71.50,263.90 90.00,263.17 120.00,261.22 159.00,259.04" fill="none" stroke="#9030d0" stroke-width="1.1" stroke-linejoin="round"/>
<polyline points="54.00,263.90 71.50,263.90 90.00,263.47 120.00,262.33 159.00,261.05" fill="none" stroke="#202070" stroke-width="1.1" stroke-linejoin="round"/>
<polyline points="54.00,263.90 71.50,263.90 90.00,263.34 120.00,261.83 159.00,260.14" fill="none" stroke="#3a1a80" stroke-width="1.1" stroke-linejoin="round"/>
<polyline points="71.50,263.90 72.50,197.45 73.50,220.56 75.00,235.01 77.50,200.34 79.00,223.45 80.50,230.32 82.00,233.08 83.50,236.23 85.00,238.86 87.50,240.19 90.00,244.64 92.00,245.38 94.00,247.15 96.00,250.42 98.00,252.25 100.00,251.57 102.00,254.56 104.00,256.20 106.00,259.58 108.00,258.38 110.00,261.70 112.00,260.05 114.00,257.93 116.00,258.24 118.00,261.39 120.00,261.81 122.00,261.97 124.00,261.77 126.00,262.53 128.00,262.67 130.00,262.76 132.00,262.69 134.00,262.47 136.00,262.19 138.00,263.16 140.00,262.94" fill="none" stroke="#66ccf5" stroke-width="0.8" stroke-linejoin="round"/>
<polyline points="71.50,263.90 73.00,225.38 75.50,221.22 78.00,217.68 80.00,220.78 82.00,221.53 84.00,218.29 86.00,218.64 88.50,211.90 90.25,212.67 92.00,216.71 93.75,213.47 95.50,209.97 97.00,216.71 98.50,215.12 100.00,214.79 102.50,216.85 105.00,216.71 107.00,219.71 109.00,220.56 111.00,225.71 113.00,229.23 115.50,232.82 118.00,237.90 120.00,243.82 122.00,247.53 124.50,250.53 127.00,257.16 129.50,260.74 132.00,261.01 134.00,261.73 136.00,262.29 138.00,262.25 140.00,262.94" fill="none" stroke="#66ccf5" stroke-width="0.8" stroke-linejoin="round"/>
<polyline points="71.50,263.90 73.00,223.45 74.50,221.58 76.00,217.68 78.00,214.79 79.50,219.75 81.00,225.38 82.50,223.45 84.00,219.60 86.00,221.53 87.50,217.06 89.00,213.82 90.50,213.03 92.00,212.86 94.00,220.56 96.00,218.64 98.00,221.38 100.00,223.45 102.00,224.56 104.00,226.34 106.50,230.00 109.00,234.05 111.00,238.74 113.00,240.79 114.50,242.63 116.00,244.64 117.50,243.33 119.00,242.71 121.00,234.05 122.70,230.68 124.00,235.01 125.00,246.57 127.00,250.42 128.50,253.25 130.00,256.20 132.50,257.51 135.00,261.01 137.00,261.26 139.00,261.85 141.00,262.32 143.00,262.77 145.00,262.94" fill="none" stroke="#ff1f8f" stroke-width="0.8" stroke-linejoin="round"/>
<polyline points="71.50,263.90 72.30,207.08 74.00,214.79 76.20,211.48 78.40,210.93 81.00,217.68 83.70,217.68 85.85,218.77 88.00,219.60 89.50,220.90 91.00,223.45 92.65,224.70 94.30,227.31 96.43,230.06 98.57,232.38 100.70,233.08 102.85,235.19 105.00,237.90 107.10,241.88 109.20,243.68 111.35,246.42 113.50,248.49 115.75,249.77 118.00,253.31 120.00,253.84 122.00,257.62 124.00,258.12 126.17,260.29 128.33,260.85 130.50,261.01 132.40,261.21 134.30,262.06 136.20,262.33 138.10,262.78 140.00,262.94" fill="none" stroke="#202020" stroke-width="0.8" stroke-linejoin="round"/>
<polyline points="71.50,263.90 72.50,210.93 75.00,215.75 77.25,212.13 79.50,213.82 81.25,215.53 83.00,221.53 85.50,222.11 88.00,225.38 90.00,228.88 92.00,229.23 94.00,232.14 96.00,233.08 98.00,233.77 100.00,236.94 102.50,238.05 105.00,242.71 107.50,248.40 110.00,248.49 112.00,252.34 114.00,250.06 116.00,254.27 118.00,258.08 120.00,256.58 122.00,259.08 124.00,260.79 126.00,259.69 128.00,260.83 130.00,261.97 132.00,262.07 134.00,262.48 136.00,262.76 138.00,262.60 140.00,262.94" fill="none" stroke="#202070" stroke-width="0.8" stroke-linejoin="round"/>
<polyline points="71.50,263.90 73.00,225.38 74.50,218.25 76.00,217.68 78.40,214.79 81.00,227.31 82.50,231.50 84.00,233.08 86.00,231.53 88.00,235.01 90.00,232.06 92.00,236.94 94.25,242.42 96.50,244.64 98.75,244.24 101.00,248.49 103.50,250.41 106.00,249.45 108.00,253.81 110.00,252.34 111.75,255.10 113.50,255.23 115.75,254.50 118.00,258.12 120.00,262.14 122.00,258.67 124.00,261.01 126.00,261.75 128.00,262.55 130.00,262.58 132.00,262.94" fill="none" stroke="#9030d0" stroke-width="0.8" stroke-linejoin="round"/>
<polyline points="71.50,263.90 73.00,230.19 75.00,219.60 77.00,235.01 79.00,220.56 81.00,235.01 83.00,229.23 84.50,233.72 86.00,239.82 87.50,235.87 89.00,235.01 90.50,241.69 92.00,244.64 93.50,241.01 95.00,240.79 96.50,243.40 98.00,248.49 100.00,248.76 102.00,245.60 104.00,247.79 106.00,252.34 108.00,250.21 110.00,250.42 112.00,254.51 114.00,256.20 116.00,255.34 118.00,258.65 120.00,259.08 122.00,260.00 124.00,259.94 126.00,261.11 128.00,261.97" fill="none" stroke="#c090f0" stroke-width="0.8" stroke-linejoin="round"/>
<polyline points="71.50,263.90 74.00,235.01 75.50,231.90 77.00,225.38 78.50,228.20 80.00,232.12 82.00,227.49 84.00,229.23 86.00,232.02 88.00,236.94 90.00,238.02 92.00,238.86 94.00,242.56 96.00,243.68 98.00,245.64 100.00,242.71 102.00,242.24 104.00,248.49 106.00,246.30 108.00,247.53 109.83,250.18 111.67,248.82 113.50,250.42 115.60,248.53 117.70,249.45 119.85,248.16 122.00,252.34 124.50,256.71 127.00,258.12 128.75,260.34 130.50,262.16 132.25,260.89 134.00,261.97 135.83,261.57 137.67,261.98 139.50,262.94 141.33,262.79 143.17,263.35 145.00,262.94" fill="none" stroke="#9030d0" stroke-width="0.8" stroke-linejoin="round"/>
<polyline points="71.50,263.90 73.00,230.19 75.20,243.68 78.00,242.71 80.00,244.74 82.00,244.64 84.00,243.25 86.00,243.68 88.00,243.54 90.00,245.93 92.00,246.57 94.00,248.17 96.00,249.37 98.00,249.45 100.00,251.63 102.00,252.20 104.00,252.34 106.00,254.17 108.00,253.25 110.00,255.23 112.00,257.09 114.00,258.05 116.00,258.12 118.00,257.61 120.00,258.36 122.00,261.44 124.00,261.01 126.00,261.50 128.00,261.50 130.00,262.23 132.00,262.48 134.00,262.94" fill="none" stroke="#138f8f" stroke-width="0.8" stroke-linejoin="round"/>
<polyline points="71.50,263.90 72.50,208.05 74.00,225.38 75.50,230.08 77.00,233.08 78.50,231.31 80.00,229.23 82.00,231.94 84.00,235.01 86.00,237.99 88.00,237.90 90.00,239.33 92.00,240.79 94.00,240.96 96.00,244.64 98.00,246.32 100.00,248.49 102.00,249.70 104.00,249.94 106.00,252.34 108.00,253.82 110.00,255.78 112.00,256.20 114.00,255.85 116.00,259.40 118.00,257.59 120.00,260.05 122.00,259.05 124.00,260.97 126.00,261.48 128.00,262.31 130.00,262.46" fill="none" stroke="#138f8f" stroke-width="0.8" stroke-linejoin="round"/>
<polyline points="71.50,263.90 73.00,236.94 74.50,238.70 76.00,244.64 78.00,243.25 80.00,240.79 82.00,243.09 84.00,248.49 86.00,251.63 88.00,252.34 90.00,250.99 92.00,249.45 94.00,252.95 96.00,254.27 98.00,254.55 100.00,255.23 102.00,258.24 104.00,257.56 106.00,258.12 108.00,259.49 110.00,261.30 112.00,258.05 114.00,260.05 116.00,258.45 118.00,262.50 120.00,261.08 122.00,261.56 124.00,261.97 126.00,262.17 128.00,262.13 130.00,262.18 132.00,262.67 134.00,262.71 136.00,262.69 138.00,262.34 140.00,262.94" fill="none" stroke="#e0107a" stroke-width="0.8" stroke-linejoin="round"/>
<polyline points="71.50,263.90 73.00,220.56 74.50,222.53 76.00,228.27 78.00,228.48 80.00,225.38 82.00,226.19 84.00,232.12 86.00,233.60 88.00,235.01 90.00,237.05 92.00,237.90 94.00,238.19 96.00,239.82 98.00,243.66 100.00,243.68 102.00,247.85 104.00,248.49 106.00,250.87 108.00,252.34 110.00,255.51 112.00,254.57 114.00,257.16 116.00,258.61 118.00,259.76 120.00,261.33 122.00,261.01 124.17,261.65 126.33,261.40 128.50,261.51 130.67,262.47 132.83,262.26 135.00,262.94" fill="none" stroke="#3050c8" stroke-width="0.8" stroke-linejoin="round"/>
<polyline points="71.50,263.90 74.00,230.19 75.50,228.36 77.00,226.34 78.50,228.91 80.00,233.08 82.00,231.54 84.00,231.16 86.00,232.12 88.00,235.01 90.00,234.52 92.00,237.90 94.00,238.13 96.00,240.79 98.00,244.34 100.00,244.64 102.00,247.43 104.00,247.53 106.00,249.19 108.00,250.42 110.00,252.39 112.00,253.31 114.50,253.00 117.00,257.16 119.00,257.02 121.00,259.24 123.00,260.05 124.75,261.24 126.50,261.27 128.25,261.39 130.00,261.97" fill="none" stroke="#66ccf5" stroke-width="0.8" stroke-linejoin="round"/>
<polyline points="71.50,263.90 73.00,227.31 74.50,230.59 76.00,231.16 78.00,229.13 80.00,229.23 82.00,231.00 84.00,234.05 86.00,236.88 88.00,236.94 90.00,239.20 92.00,241.75 94.00,243.95 96.00,244.64 98.00,244.50 100.00,246.57 102.50,246.51 105.00,248.49 107.50,249.55 110.00,249.45 111.75,244.84 113.50,240.79 115.60,240.32 117.70,239.82 119.35,242.38 121.00,243.68 122.50,246.76 124.00,249.45 126.00,253.13 128.00,256.20 130.00,257.90 132.00,258.10 134.00,261.01 135.83,261.20 137.67,261.92 139.50,262.06 141.33,262.02 143.17,262.47 145.00,262.94" fill="none" stroke="#202020" stroke-width="0.8" stroke-linejoin="round"/>
<polyline points="71.50,263.90 73.00,221.53 74.50,225.93 76.00,226.34 77.50,225.59 79.00,218.64 80.50,222.66 82.00,229.23 84.00,232.17 86.00,231.16 88.00,232.61 90.00,235.97 92.00,240.09 94.00,238.86 96.00,237.08 98.00,242.71 100.00,243.29 102.00,246.57 104.50,250.56 107.00,251.38 109.50,256.67 112.00,255.23 114.00,253.92 116.00,254.74 118.00,259.08 120.00,261.06 122.00,263.56 124.00,260.52 126.00,261.97" fill="none" stroke="#7a2ad0" stroke-width="0.8" stroke-linejoin="round"/>
<polyline points="71.50,263.90 74.00,254.27 76.00,249.86 78.00,248.49 80.00,250.62 82.00,251.91 84.00,251.38 86.00,251.27 88.00,247.19 90.00,246.57 92.00,246.47 94.00,247.24 96.00,250.42 98.00,248.77 100.00,247.95 102.00,247.53 104.00,248.09 106.00,250.16 108.00,251.38 110.00,251.84 112.00,254.04 114.00,253.31 116.00,254.11 118.00,251.38 120.00,251.41 122.00,254.27 124.00,254.39 126.00,255.05 128.00,258.12 130.00,257.92 132.00,259.23 134.00,261.58 136.00,261.01 138.00,261.00 140.00,261.54 142.00,261.55 144.00,261.90 146.00,262.17 148.00,262.56 150.00,262.94" fill="none" stroke="#ff1f8f" stroke-width="0.8" stroke-linejoin="round"/>
<polyline points="71.50,263.90 74.00,240.79 76.00,237.14 78.00,235.97 80.00,237.51 82.00,239.82 84.00,238.01 86.00,237.90 88.00,241.72 90.00,241.75 92.00,240.87 94.00,240.19 96.00,240.79 98.00,242.79 100.00,244.64 102.00,244.38 104.00,244.98 106.00,243.68 108.00,244.99 110.00,245.28 112.00,246.57 114.00,244.20 116.00,244.64 118.00,246.29 120.00,248.49 122.50,251.57 125.00,254.27 127.50,257.39 130.00,259.08 132.00,258.81 134.00,261.22 136.00,261.59 138.00,261.97" fill="none" stroke="#202070" stroke-width="0.8" stroke-linejoin="round"/>
<polyline points="71.50,263.90 73.25,255.77 75.00,244.64 77.50,244.17 80.00,239.82 82.00,242.01 84.00,245.01 86.00,244.64 88.00,246.14 90.00,248.78 92.00,247.53 94.00,246.73 96.00,245.86 98.00,245.60 100.00,248.08 102.00,247.02 104.00,250.42 106.00,254.41 108.00,250.24 110.00,254.27 112.00,255.61 114.00,258.14 116.00,257.82 118.00,258.12 120.00,259.29 122.00,262.42 124.00,259.11 126.00,261.01" fill="none" stroke="#c090f0" stroke-width="0.8" stroke-linejoin="round"/>
<polyline points="140.00,263.42 141.77,263.10 143.53,262.78 145.30,262.46 147.07,255.39 148.83,248.33 150.60,241.27 152.65,243.92 154.70,246.57 156.75,249.21 158.80,251.86" fill="none" stroke="#202020" stroke-width="0.8" stroke-linejoin="round"/>
<polyline points="71.50,263.90 73.00,220.56 74.50,214.25 76.00,212.86 77.50,218.08 79.00,219.60 80.50,214.11 82.00,211.90 83.50,214.08 85.00,216.71 86.50,211.06 88.00,210.93 89.50,214.00 91.00,217.68 92.50,217.10 94.00,215.75 95.50,221.55 97.00,222.49 98.50,224.35 100.00,225.38 102.00,226.55 104.00,233.08 106.00,233.62 108.00,239.82 110.00,245.10 112.00,247.53 114.50,249.10 117.00,254.27 119.00,257.55 121.00,257.00 123.00,259.08 124.75,260.35 126.50,261.94 128.25,261.33 130.00,261.97" fill="none" stroke="#ff1f8f" stroke-width="0.8" stroke-linejoin="round"/>
<polyline points="71.50,263.90 73.00,215.75 75.00,221.53 76.50,215.65 78.00,209.97 80.00,217.68 81.50,218.33 83.00,214.79 84.50,214.62 86.00,220.56 87.50,218.21 89.00,217.68 90.50,219.96 92.00,223.45 93.50,220.00 95.00,222.49 96.50,228.14 98.00,228.27 100.00,229.18 102.00,234.05 104.00,238.80 106.00,239.82 108.00,244.87 110.00,246.57 112.50,251.14 115.00,253.31 117.00,253.62 119.00,254.18 121.00,259.08 122.75,258.42 124.50,261.76 126.25,261.75 128.00,261.97" fill="none" stroke="#9030d0" stroke-width="0.8" stroke-linejoin="round"/>
<polyline points="71.50,263.90 73.00,225.38 74.50,223.43 76.00,216.71 77.50,219.12 79.00,222.49 80.50,221.16 82.00,218.64 84.00,217.69 86.00,221.53 88.00,219.90 90.00,219.60 92.00,222.36 94.00,225.38 96.00,224.77 98.00,229.23 100.00,233.36 102.00,235.01 104.00,235.88 106.00,240.79 108.00,244.13 110.00,246.57 112.50,248.44 115.00,252.34 117.50,252.53 120.00,258.12 122.00,257.31 124.00,259.44 126.00,260.66 128.00,261.97" fill="none" stroke="#3050c8" stroke-width="0.8" stroke-linejoin="round"/>
<polyline points="71.50,263.90 73.00,227.31 75.00,213.82 77.00,224.42 78.50,220.50 80.00,216.71 81.50,219.43 83.00,223.45 84.50,222.86 86.00,219.60 87.50,220.07 89.00,226.34 90.50,223.83 92.00,224.42 93.50,225.55 95.00,230.19 97.00,232.88 99.00,235.01 101.00,236.12 103.00,241.75 105.50,243.55 108.00,248.49 110.00,250.12 112.00,255.64 114.00,255.23 116.00,257.17 118.00,255.27 120.00,260.05 122.00,260.26 124.00,261.42 126.00,261.68 128.00,262.46" fill="none" stroke="#7a2ad0" stroke-width="0.8" stroke-linejoin="round"/>
<polyline points="71.50,263.90 74.00,231.16 76.00,229.89 78.00,223.45 80.00,223.91 82.00,219.60 84.00,223.03 86.00,225.38 88.00,225.72 90.00,221.53 92.00,222.10 94.00,227.31 96.00,229.01 98.00,225.38 100.00,228.54 102.00,232.12 104.00,236.46 106.00,238.86 108.00,239.72 110.00,244.64 112.50,249.98 115.00,251.38 117.00,254.57 119.00,256.84 121.00,258.12 122.75,260.56 124.50,262.93 126.25,261.08 128.00,261.97" fill="none" stroke="#e0107a" stroke-width="0.8" stroke-linejoin="round"/>
<polyline points="71.50,263.90 73.00,217.68 74.50,217.90 76.00,223.45 78.00,219.32 80.00,215.75 82.00,220.50 84.00,221.53 86.00,217.39 88.00,218.64 90.00,222.01 92.00,224.42 94.00,221.79 96.00,222.49 98.00,228.57 100.00,229.23 102.00,234.05 104.00,235.01 106.00,235.68 108.00,241.75 110.50,243.78 113.00,249.45 115.00,254.47 117.00,254.10 119.00,256.20 120.75,257.83 122.50,260.17 124.25,262.11 126.00,261.01" fill="none" stroke="#66ccf5" stroke-width="0.8" stroke-linejoin="round"/>
<polyline points="72.00,263.50 74.50,258.00 76.20,252.00 78.00,246.50 80.00,242.20 82.00,241.40 83.30,244.50 84.20,249.50 85.60,254.20 87.20,257.00 88.80,258.30 90.60,257.80 92.20,256.00 93.40,253.00 94.40,249.00 95.40,244.50 96.80,240.80 98.50,238.80 100.20,238.60 101.80,240.20 103.50,242.50 106.00,245.50 109.00,249.00 112.00,252.50 116.00,256.50 121.00,260.00 128.00,262.50 140.00,263.30" fill="none" stroke="#1a1a1a" stroke-width="0.9" stroke-linejoin="round"/>
<circle cx="80.00" cy="242.20" r="0.75" fill="#1a1a1a"/>
<circle cx="82.00" cy="241.40" r="0.75" fill="#1a1a1a"/>
<circle cx="83.30" cy="244.50" r="0.75" fill="#1a1a1a"/>
<circle cx="84.20" cy="249.50" r="0.75" fill="#1a1a1a"/>
<circle cx="85.60" cy="254.20" r="0.75" fill="#1a1a1a"/>
<circle cx="87.20" cy="257.00" r="0.75" fill="#1a1a1a"/>
<circle cx="88.80" cy="258.30" r="0.75" fill="#1a1a1a"/>
<circle cx="90.60" cy="257.80" r="0.75" fill="#1a1a1a"/>
<circle cx="92.20" cy="256.00" r="0.75" fill="#1a1a1a"/>
<circle cx="93.40" cy="253.00" r="0.75" fill="#1a1a1a"/>
<circle cx="94.40" cy="249.00" r="0.75" fill="#1a1a1a"/>
<circle cx="95.40" cy="244.50" r="0.75" fill="#1a1a1a"/>
<circle cx="96.80" cy="240.80" r="0.75" fill="#1a1a1a"/>
<circle cx="98.50" cy="238.80" r="0.75" fill="#1a1a1a"/>
<circle cx="100.20" cy="238.60" r="0.75" fill="#1a1a1a"/>
<circle cx="101.80" cy="240.20" r="0.75" fill="#1a1a1a"/>
<circle cx="103.50" cy="242.50" r="0.75" fill="#1a1a1a"/>
<circle cx="106.00" cy="245.50" r="0.75" fill="#1a1a1a"/>
<circle cx="109.00" cy="249.00" r="0.75" fill="#1a1a1a"/>
<circle cx="112.00" cy="252.50" r="0.75" fill="#1a1a1a"/>
<polyline points="72.00,263.50 75.50,252.00 78.50,244.00 80.80,241.60 84.50,242.20 88.50,243.00 92.00,244.80 95.50,247.00 99.00,248.80 102.40,250.80 106.00,253.00 110.00,255.50 115.00,258.50 121.00,261.00 130.00,263.00 145.00,263.50" fill="none" stroke="#102020" stroke-width="1.1" stroke-linejoin="round"/>
<line x1="54.50" y1="263.90" x2="159.00" y2="263.90" stroke="#1c1050" stroke-width="1.3"/>
<line x1="72.00" y1="265.40" x2="159.00" y2="265.40" stroke="#45cdf2" stroke-width="1.4"/>
<line x1="55" y1="222.5" x2="164" y2="222.5" stroke="#000" stroke-width="1" stroke-dasharray="1,1"/>
<text x="198.30" y="220.80" font-size="7.0" text-anchor="middle" font-weight="bold" fill="#111">Average Peak of</text>
<text x="197.60" y="229.20" font-size="7.0" text-anchor="middle" font-weight="bold" fill="#111">Responsive Cells</text>
<line x1="168.10" y1="264.50" x2="180.70" y2="264.50" stroke="#111" stroke-width="1.0"/>
<text x="173.80" y="272.70" font-size="7.75" text-anchor="middle" fill="#111">1 min</text>
<line x1="69.70" y1="272.10" x2="69.70" y2="279.30" stroke="#111" stroke-width="1.1"/>
<path d="M69.70,270.00 L67.50,273.50 L71.90,273.50 Z" fill="#111"/>
<line x1="113.70" y1="278.20" x2="106.01" y2="270.51" stroke="#111" stroke-width="1.1"/>
<path d="M104.40,268.90 L108.64,270.03 L105.53,273.14 Z" fill="#111"/>
<text x="90.50" y="285.90" font-size="7.75" fill="#111">Many unresponsive cells</text>
<text x="270.10" y="176.20" font-size="7.75" font-style="italic" fill="#1a1a1a">Beas-2B</text>
<text x="270.10" y="184.95" font-size="7.75" font-style="italic" fill="#1a1a1a">30 individual cells from 1 experiment</text>
<text x="270.10" y="193.70" font-size="7.75" font-style="italic" fill="#1a1a1a">100 µM Isoproterenol + 15 mM Denatonium</text>
<line x1="268.10" y1="196.40" x2="268.10" y2="269.00" stroke="#2a2a2a" stroke-width="1.0"/>
<line x1="265.30" y1="263.60" x2="268.10" y2="263.60" stroke="#2a2a2a" stroke-width="1.0"/>
<text x="264.80" y="266.12" font-size="6.3" text-anchor="end" font-weight="bold" fill="#222">1</text>
<line x1="265.30" y1="254.00" x2="268.10" y2="254.00" stroke="#2a2a2a" stroke-width="1.0"/>
<text x="264.80" y="256.52" font-size="6.3" text-anchor="end" font-weight="bold" fill="#222">2</text>
<line x1="265.30" y1="244.40" x2="268.10" y2="244.40" stroke="#2a2a2a" stroke-width="1.0"/>
<text x="264.80" y="246.92" font-size="6.3" text-anchor="end" font-weight="bold" fill="#222">3</text>
<line x1="265.30" y1="234.80" x2="268.10" y2="234.80" stroke="#2a2a2a" stroke-width="1.0"/>
<text x="264.80" y="237.32" font-size="6.3" text-anchor="end" font-weight="bold" fill="#222">4</text>
<line x1="265.30" y1="225.20" x2="268.10" y2="225.20" stroke="#2a2a2a" stroke-width="1.0"/>
<text x="264.80" y="227.72" font-size="6.3" text-anchor="end" font-weight="bold" fill="#222">5</text>
<line x1="265.30" y1="215.60" x2="268.10" y2="215.60" stroke="#2a2a2a" stroke-width="1.0"/>
<text x="264.80" y="218.12" font-size="6.3" text-anchor="end" font-weight="bold" fill="#222">6</text>
<line x1="265.30" y1="206.00" x2="268.10" y2="206.00" stroke="#2a2a2a" stroke-width="1.0"/>
<text x="264.80" y="208.52" font-size="6.3" text-anchor="end" font-weight="bold" fill="#222">7</text>
<line x1="265.30" y1="196.40" x2="268.10" y2="196.40" stroke="#2a2a2a" stroke-width="1.0"/>
<text x="264.80" y="198.92" font-size="6.3" text-anchor="end" font-weight="bold" fill="#222">8</text>
<text x="246.10" y="231.70" font-size="7.3" text-anchor="middle" fill="#111" transform="rotate(-90 246.1 231.7)">Intracellular Ca<tspan dy="-3" font-size="5">2+</tspan></text>
<text x="254.20" y="230.50" font-size="7.75" text-anchor="middle" fill="#111" transform="rotate(-90 254.2 230.5)">Fluo-8 Fluorescence (F/F<tspan dy="1.6" font-size="5">0</tspan><tspan dy="-1.6">)</tspan></text>
<polyline points="268.00,263.60 290.83,263.60 293.66,236.02 296.87,237.00 299.63,239.01 301.64,239.43 304.51,241.90 307.70,243.14 310.05,245.24 313.55,245.13 316.86,247.80 318.91,250.16 321.66,252.68 325.09,253.86 327.32,253.52 329.51,254.21 332.19,256.67 334.70,257.84 336.98,260.11 340.28,260.30 343.45,261.05 346.90,259.24 350.04,260.71 352.91,261.02 355.09,261.45 358.33,261.94 361.72,261.38 364.33,262.01 367.01,262.07 370.50,262.14 372.54,262.48 375.62,261.58 377.50,262.12" fill="none" stroke="#ff1f8f" stroke-width="0.8" stroke-linejoin="round"/>
<polyline points="268.00,263.60 291.60,263.60 293.11,235.07 295.38,236.50 297.90,234.28 300.42,235.90 302.88,238.20 304.98,236.34 308.15,238.94 311.17,239.18 314.52,239.90 317.13,241.30 320.57,244.88 323.90,247.49 326.46,250.10 329.78,252.61 331.88,251.71 335.04,254.63 338.30,257.71 340.68,257.89 343.31,259.23 345.42,259.27 348.77,257.85 351.88,260.12 354.26,259.97 357.05,260.54 359.09,261.26 362.35,260.89 365.67,261.27 368.31,261.40 371.59,261.78 374.39,261.88 377.50,262.21" fill="none" stroke="#e0107a" stroke-width="0.8" stroke-linejoin="round"/>
<polyline points="268.00,263.60 291.87,263.60 292.75,231.71 295.62,232.95 298.23,230.98 301.59,234.57 303.73,235.27 305.77,234.68 307.98,234.00 310.96,237.78 313.77,238.45 316.51,240.30 318.76,241.77 321.33,241.61 324.15,245.82 327.22,245.11 330.38,247.60 332.39,250.08 334.49,250.39 336.75,251.94 339.13,253.31 341.60,256.80 344.18,257.00 347.54,258.29 350.29,258.36 353.71,259.66 356.61,259.80 359.72,259.80 362.18,260.38 364.97,260.80 367.07,260.71 370.53,261.41 373.01,260.87 375.17,261.91 377.28,261.21 377.50,261.60" fill="none" stroke="#9030d0" stroke-width="0.8" stroke-linejoin="round"/>
<polyline points="268.00,263.60 294.67,263.60 296.91,263.13 299.14,261.72 301.37,259.38 303.60,256.09 305.83,251.87 308.43,253.23 310.51,252.91 312.88,252.50 316.10,253.28 318.79,255.76 321.37,255.72 324.31,255.05 326.44,257.42 329.18,257.46 332.52,258.19 335.46,258.96 338.46,259.21 341.51,260.29 343.87,259.78 346.45,261.08 349.69,260.12 353.17,262.42 355.64,262.20 358.23,262.45 361.06,262.59 363.51,261.73 366.63,262.27 368.79,261.78 371.85,262.58 374.35,262.14 377.37,262.54 377.50,262.48" fill="none" stroke="#7a2ad0" stroke-width="0.8" stroke-linejoin="round"/>
<polyline points="268.00,263.60 291.01,263.60 292.30,233.48 294.72,234.59 298.13,235.51 300.78,236.16 303.20,238.94 305.78,240.12 308.06,239.23 310.11,241.21 313.52,244.13 315.54,246.40 317.60,247.62 320.65,251.17 322.67,251.52 324.81,253.73 327.49,253.27 330.04,257.18 333.23,256.15 336.03,259.77 338.31,259.18 341.13,260.44 344.34,258.86 347.73,259.16 349.75,260.41 351.87,260.45 354.99,260.80 357.28,261.64 360.50,261.20 363.43,261.42 366.63,261.63 369.03,261.65 371.48,261.40 374.82,262.00 376.92,261.56 377.50,261.90" fill="none" stroke="#202070" stroke-width="0.8" stroke-linejoin="round"/>
<polyline points="268.00,263.60 291.04,263.60 291.96,246.32 294.20,247.80 297.59,246.53 300.20,246.22 303.30,247.14 305.41,246.38 307.73,249.47 310.26,248.25 313.21,250.16 316.27,249.89 318.51,249.36 321.72,250.29 324.74,253.81 327.91,252.70 330.71,253.78 334.16,256.87 337.58,256.15 340.77,260.29 343.30,258.85 346.21,258.98 349.18,261.55 352.57,260.81 355.90,261.49 359.39,261.40 362.56,261.40 365.88,261.93 368.00,261.96 370.27,261.88 373.49,262.13 375.69,262.51 377.50,261.96" fill="none" stroke="#202020" stroke-width="0.8" stroke-linejoin="round"/>
<polyline points="268.00,263.60 290.55,263.60 292.03,236.42 295.37,236.51 297.55,237.57 300.19,236.37 303.35,236.28 306.32,238.37 308.97,238.36 311.70,239.30 314.51,239.36 316.56,238.74 319.44,239.89 322.55,241.57 326.04,244.71 328.63,247.62 331.62,247.65 334.49,248.23 336.78,252.50 339.89,252.57 342.61,256.87 345.17,255.61 347.92,258.19 350.50,258.97 353.40,259.86 356.70,260.66 359.26,261.69 362.43,261.63 365.82,262.63 369.09,262.19 371.21,262.93 374.16,263.24 377.41,263.24 377.50,263.21" fill="none" stroke="#138f8f" stroke-width="0.8" stroke-linejoin="round"/>
<polyline points="268.00,263.60 293.26,263.60 295.26,263.05 297.26,261.41 299.25,258.67 301.25,254.83 303.24,249.89 305.75,250.07 308.30,252.43 310.51,253.64 313.56,253.48 315.74,252.66 318.72,256.71 321.81,255.80 324.48,256.98 327.92,258.40 330.87,258.21 333.42,259.73 336.55,259.27 339.24,260.06 341.57,259.38 343.60,260.08 346.29,261.74 349.17,260.67 351.30,261.07 353.54,260.84 356.04,261.41 358.36,261.77 360.64,261.71 363.57,261.03 365.91,261.83 368.71,261.85 371.32,261.20 373.62,261.28 376.43,261.93 377.50,261.40" fill="none" stroke="#3050c8" stroke-width="0.8" stroke-linejoin="round"/>
<polyline points="268.00,263.60 290.69,263.60 293.34,243.96 295.35,244.83 297.83,242.99 300.37,243.79 302.42,245.12 305.75,244.85 308.62,247.60 312.01,248.97 315.46,247.79 318.54,249.87 320.79,251.48 323.78,251.71 326.37,252.34 328.45,255.00 330.58,255.74 333.77,255.44 335.99,257.72 338.16,257.13 340.83,259.30 343.39,257.66 346.03,258.73 348.97,259.91 351.80,260.28 354.10,260.35 356.56,260.71 358.84,260.24 361.47,261.11 363.52,261.17 366.82,261.14 369.82,261.32 372.80,261.14 375.91,261.10 377.50,261.37" fill="none" stroke="#c090f0" stroke-width="0.8" stroke-linejoin="round"/>
<polyline points="268.00,263.60 291.69,263.60 294.70,233.70 297.97,235.94 300.99,234.90 304.00,235.58 307.32,239.78 310.82,241.57 313.39,240.99 315.64,244.52 318.58,246.99 320.98,246.86 323.90,249.02 327.08,250.61 330.42,252.70 333.89,255.56 336.94,256.81 340.40,257.54 343.04,258.27 345.48,260.71 348.06,261.21 350.07,260.72 352.75,260.40 354.82,260.78 356.99,261.13 359.43,261.39 362.50,261.63 365.09,261.44 367.26,261.92 370.32,261.52 373.78,262.21 376.72,262.21 377.50,261.67" fill="none" stroke="#66ccf5" stroke-width="0.8" stroke-linejoin="round"/>
<polyline points="268.00,263.60 290.77,263.60 294.57,241.65 296.98,240.94 298.99,242.74 301.24,243.07 303.56,244.60 306.76,244.80 309.62,244.26 312.90,244.31 315.83,247.75 318.97,249.33 322.36,250.18 324.74,251.66 327.34,250.97 330.62,252.74 333.71,255.91 336.20,256.78 338.85,255.84 342.34,259.77 345.79,257.85 348.48,259.25 351.66,260.85 354.58,260.46 357.90,260.93 360.03,261.34 362.76,261.35 365.01,261.87 367.19,261.72 370.27,262.65 372.74,262.62 375.69,262.19 377.50,261.90" fill="none" stroke="#ff1f8f" stroke-width="0.8" stroke-linejoin="round"/>
<polyline points="268.00,263.60 295.88,263.60 298.00,262.95 300.12,261.01 302.23,257.78 304.35,253.25 306.47,247.43 309.13,247.09 311.41,249.20 314.56,250.38 316.66,248.74 318.90,251.34 321.37,252.91 323.90,253.10 326.07,254.14 328.15,256.68 330.45,257.16 332.97,258.04 336.22,257.98 338.93,258.44 341.96,260.80 344.88,259.90 347.68,260.32 350.63,261.11 353.03,261.60 356.50,261.99 359.85,262.60 362.94,262.53 366.06,262.44 368.87,262.68 371.25,262.07 374.22,262.34 376.39,262.71 377.50,262.81" fill="none" stroke="#202070" stroke-width="0.8" stroke-linejoin="round"/>
<polyline points="268.00,263.60 291.58,263.60 294.01,235.91 296.36,236.29 298.99,235.61 302.01,237.35 305.05,237.13 307.07,237.91 309.63,238.69 312.64,236.60 316.04,238.79 319.32,240.38 322.20,240.16 324.29,242.96 326.85,244.33 329.50,246.76 332.51,245.43 334.86,249.53 337.37,248.94 339.71,250.43 341.97,252.33 345.05,253.69 347.17,253.74 350.45,256.73 353.74,257.77 355.99,258.65 359.22,259.38 361.28,260.11 363.56,260.07 366.53,260.63 369.13,260.38 371.65,260.91 373.95,261.24 376.22,261.80 377.50,261.86" fill="none" stroke="#9030d0" stroke-width="0.8" stroke-linejoin="round"/>
<polyline points="268.00,263.60 291.26,263.60 293.82,236.62 296.91,237.23 300.04,235.64 302.82,238.64 305.36,238.41 307.84,240.58 310.44,239.75 313.66,241.13 316.99,243.25 319.60,245.85 321.69,247.07 324.75,251.49 327.46,253.62 330.65,255.32 333.82,255.39 336.99,258.62 339.50,257.48 342.86,260.87 345.40,259.22 348.53,261.33 351.20,260.32 353.34,261.16 356.34,260.63 359.76,261.18 362.94,260.71 365.44,261.51 367.83,260.96 370.03,261.22 373.43,261.59 376.37,261.26 377.50,261.28" fill="none" stroke="#202020" stroke-width="0.8" stroke-linejoin="round"/>
<polyline points="268.00,263.60 291.48,263.60 294.69,232.53 298.14,231.18 300.88,233.35 303.22,234.14 305.53,234.89 308.63,235.96 311.53,234.89 314.63,236.15 318.02,238.76 320.16,238.96 322.56,239.15 325.95,242.75 329.20,247.00 331.92,248.88 334.44,251.05 337.16,252.27 339.20,254.17 341.39,254.15 344.22,257.09 346.69,257.87 349.75,258.35 352.62,260.86 355.57,261.76 358.68,262.02 361.76,262.59 364.66,262.81 366.71,262.86 369.99,262.90 372.77,262.59 376.24,263.23 377.50,262.72" fill="none" stroke="#ff1f8f" stroke-width="0.8" stroke-linejoin="round"/>
<polyline points="268.00,263.60 295.28,263.60 297.24,262.99 299.20,261.17 301.16,258.13 303.11,253.88 305.07,248.42 308.02,248.21 310.39,249.76 312.72,252.48 315.43,251.97 318.39,252.24 320.64,254.66 323.36,256.71 326.73,258.33 329.12,259.44 332.09,258.10 334.43,257.70 337.38,260.72 340.79,258.93 343.26,259.15 345.46,261.12 348.08,259.20 350.53,261.02 352.84,260.66 355.12,260.71 357.63,261.08 360.95,261.43 363.74,261.09 366.60,261.36 369.57,261.47 371.81,261.80 374.72,261.23 377.50,261.67" fill="none" stroke="#e0107a" stroke-width="0.8" stroke-linejoin="round"/>
<polyline points="268.00,263.60 291.85,263.60 294.33,239.88 297.29,241.42 300.60,240.63 302.67,241.14 306.09,240.24 308.72,243.51 312.13,244.73 314.16,245.77 316.86,245.65 318.96,247.98 322.05,249.77 324.32,249.87 326.97,251.50 329.70,252.64 332.47,253.49 335.69,255.79 338.42,257.18 340.99,259.79 344.31,258.06 347.46,258.44 350.29,259.56 353.00,259.85 355.12,260.65 357.98,260.37 360.76,260.53 363.32,260.74 366.51,260.90 368.55,260.88 370.55,261.28 372.72,260.83 374.97,260.90 377.08,261.44 377.50,260.70" fill="none" stroke="#9030d0" stroke-width="0.8" stroke-linejoin="round"/>
<polyline points="268.00,263.60 290.64,263.60 292.71,237.25 294.83,236.42 297.57,238.27 299.77,238.95 303.12,242.49 306.29,242.51 309.78,246.46 312.75,249.94 315.92,252.90 318.85,254.16 322.34,255.88 324.48,259.09 327.02,259.36 330.09,260.75 332.93,260.68 335.39,260.39 338.04,259.50 340.23,259.95 343.19,261.63 345.31,261.07 348.51,262.18 351.58,261.68 353.72,261.36 356.18,261.78 359.33,261.39 362.61,261.93 365.88,262.16 368.70,261.87 372.00,261.57 374.99,261.48 377.50,261.86" fill="none" stroke="#7a2ad0" stroke-width="0.8" stroke-linejoin="round"/>
<polyline points="268.00,263.60 290.71,263.60 292.14,241.56 295.04,242.50 297.22,243.15 300.07,245.17 303.53,245.78 306.19,247.20 308.75,248.43 312.03,250.74 314.57,250.20 317.29,252.48 320.02,254.68 322.48,254.49 325.63,255.78 328.25,255.95 330.67,257.08 332.96,257.50 335.77,258.04 339.08,258.21 342.56,260.70 345.99,260.38 348.54,260.59 351.93,260.22 355.13,261.09 357.31,261.29 360.32,260.89 362.42,261.68 365.91,261.42 367.97,261.32 370.12,261.00 372.91,261.24 376.31,261.78 377.50,261.11" fill="none" stroke="#202070" stroke-width="0.8" stroke-linejoin="round"/>
<polyline points="268.00,263.60 294.63,263.60 296.40,262.95 298.16,261.02 299.93,257.79 301.70,253.26 303.47,247.45 306.85,246.11 309.05,249.64 312.29,249.31 315.07,249.00 318.54,249.76 320.74,251.08 324.09,249.81 326.30,249.92 328.86,251.51 331.71,251.96 334.44,255.71 337.28,253.80 339.89,254.71 342.56,257.14 345.10,258.30 347.85,256.48 350.74,258.44 353.01,259.30 355.88,259.78 357.89,259.58 360.09,260.08 363.56,260.83 365.96,261.00 368.77,260.53 370.99,261.42 374.34,261.54 377.34,261.19 377.50,261.92" fill="none" stroke="#202020" stroke-width="0.8" stroke-linejoin="round"/>
<polyline points="268.00,263.60 292.02,263.60 295.04,232.29 297.21,233.91 299.26,234.36 301.96,236.85 304.29,239.27 306.33,240.66 309.81,243.94 312.88,245.24 315.76,248.34 319.23,249.54 321.84,252.83 325.22,256.03 328.53,256.24 331.38,257.79 334.27,260.34 336.64,260.10 338.97,261.57 342.04,260.96 345.15,261.48 348.57,262.32 351.33,261.72 354.52,262.19 357.34,261.97 360.28,262.29 363.09,261.57 365.24,261.62 368.69,262.21 370.82,262.18 374.26,262.71 377.39,261.92 377.50,262.11" fill="none" stroke="#138f8f" stroke-width="0.8" stroke-linejoin="round"/>
<polyline points="268.00,263.60 290.80,263.60 293.26,245.65 295.61,244.34 297.62,244.89 300.04,244.76 302.95,246.61 305.28,245.56 308.56,245.79 311.45,246.56 314.79,248.39 317.30,249.45 319.81,249.67 322.64,250.66 325.98,252.54 328.28,255.04 330.41,255.99 332.65,257.09 335.84,258.98 339.22,257.38 342.37,260.65 344.81,260.47 347.74,259.41 349.77,262.64 353.00,262.11 356.34,262.26 359.81,262.20 362.71,261.98 365.95,262.52 368.64,262.21 371.02,262.76 374.33,262.22 377.50,262.81" fill="none" stroke="#3050c8" stroke-width="0.8" stroke-linejoin="round"/>
<polyline points="268.00,263.60 291.19,263.60 294.65,245.58 297.34,244.31 299.44,247.35 301.84,246.48 304.38,249.22 307.42,248.11 309.66,252.24 312.28,250.85 314.36,254.97 317.33,254.77 320.01,258.90 322.84,260.23 324.95,261.33 328.35,262.39 331.07,260.61 333.37,262.55 336.56,262.39 338.85,262.71 342.34,261.97 345.78,264.87 347.87,263.27 349.89,261.73 352.33,263.31 355.65,263.48 358.79,263.78 361.46,263.20 364.16,263.77 367.45,263.60 370.82,263.65 374.06,263.85 377.07,262.99 377.50,263.55" fill="none" stroke="#c090f0" stroke-width="0.8" stroke-linejoin="round"/>
<polyline points="268.00,263.60 295.93,263.60 298.45,262.73 300.96,260.12 303.48,255.78 306.00,249.70 308.51,241.88 310.71,245.30 313.54,244.74 315.95,247.26 319.39,249.67 321.51,254.05 324.95,253.47 327.20,257.47 330.27,259.24 332.43,259.89 335.30,260.12 338.56,261.72 341.91,260.18 344.47,261.20 347.48,263.22 350.88,262.27 353.65,262.02 355.68,262.73 357.73,262.33 360.06,262.43 363.13,262.22 365.41,262.87 368.59,262.88 370.85,262.67 374.04,262.94 376.62,263.28 377.50,262.55" fill="none" stroke="#66ccf5" stroke-width="0.8" stroke-linejoin="round"/>
<polyline points="268.00,263.60 291.21,263.60 293.15,231.71 296.42,232.37 299.10,233.77 301.91,231.90 304.19,234.13 306.29,234.19 309.01,233.15 312.02,234.47 314.32,237.09 317.37,239.80 320.23,239.44 322.27,242.11 325.44,244.27 328.40,245.36 330.98,245.56 333.58,247.31 336.81,250.55 338.96,252.64 342.39,254.82 345.28,256.46 348.38,256.10 351.71,257.84 353.88,258.28 356.74,258.85 359.52,260.07 362.19,260.28 365.24,260.62 368.53,261.07 370.84,260.94 373.90,261.87 376.59,261.30 377.50,262.10" fill="none" stroke="#ff1f8f" stroke-width="0.8" stroke-linejoin="round"/>
<polyline points="268.00,263.60 292.23,263.60 293.66,235.35 297.09,235.43 299.10,235.17 302.35,234.61 305.48,234.94 308.69,237.14 310.78,238.66 312.85,236.60 316.06,237.71 319.23,240.55 322.07,243.41 324.31,243.34 326.39,244.86 329.17,247.18 331.44,248.96 334.12,248.18 336.80,250.40 339.87,251.97 343.06,254.78 345.13,256.94 347.55,257.39 350.45,257.88 352.88,258.94 355.99,258.82 359.04,260.27 362.08,260.02 364.89,260.49 368.18,260.92 371.24,261.43 374.50,261.15 376.78,261.17 377.50,261.38" fill="none" stroke="#202070" stroke-width="0.8" stroke-linejoin="round"/>
<polyline points="268.00,263.60 291.12,263.60 295.11,235.68 297.67,237.54 300.49,237.89 303.21,237.03 306.04,237.76 308.35,241.76 310.44,241.20 312.87,244.46 315.83,243.86 318.96,246.23 322.36,250.13 324.69,250.86 327.01,254.69 329.57,253.78 332.52,256.29 334.71,257.97 337.61,257.80 340.43,257.66 343.29,257.80 346.67,259.51 349.21,259.85 351.58,260.41 354.66,260.34 356.69,260.50 359.18,260.94 361.21,260.44 364.42,260.28 367.31,260.97 370.27,260.96 372.62,260.93 374.82,261.17 377.50,261.21" fill="none" stroke="#9030d0" stroke-width="0.8" stroke-linejoin="round"/>
<polyline points="268.00,263.60 295.90,263.60 298.29,262.85 300.67,260.59 303.06,256.82 305.45,251.55 307.84,244.78 310.60,245.51 313.95,247.66 315.96,246.70 318.75,247.66 320.88,249.67 323.95,250.63 326.42,254.16 328.49,252.40 330.90,256.72 333.34,257.65 336.15,259.67 338.96,258.84 341.77,260.00 344.13,261.38 347.25,262.42 350.49,262.51 353.21,262.07 356.20,262.96 358.75,263.10 361.88,263.14 365.13,262.89 368.38,263.12 370.80,262.99 373.46,263.68 376.13,263.56 377.50,263.48" fill="none" stroke="#202020" stroke-width="0.8" stroke-linejoin="round"/>
<polyline points="268.00,263.60 292.41,263.60 294.60,236.36 296.99,235.61 300.18,237.84 303.01,239.00 306.17,238.66 309.56,242.82 312.92,244.37 315.09,245.08 318.06,248.12 321.02,247.24 324.19,249.90 326.43,253.05 328.80,254.37 332.13,253.99 334.52,256.59 337.43,256.29 340.11,260.09 342.26,260.55 344.97,261.32 348.01,261.47 350.07,260.46 352.77,260.71 355.63,261.33 357.74,260.98 360.76,261.74 362.88,261.44 366.28,261.42 369.66,261.24 371.85,262.11 374.55,262.22 377.28,261.51 377.50,261.51" fill="none" stroke="#ff1f8f" stroke-width="0.8" stroke-linejoin="round"/>
<polyline points="268.00,263.60 291.01,263.60 292.05,233.96 294.09,234.11 296.71,234.63 299.29,236.32 302.42,239.94 305.59,241.52 308.48,244.46 310.71,246.00 313.49,248.65 316.96,252.37 320.33,253.52 322.48,254.91 324.76,256.48 327.48,256.89 330.84,260.68 334.16,258.74 336.38,262.26 339.08,262.98 341.27,261.69 343.58,261.68 345.89,261.70 348.83,263.99 351.86,262.28 355.35,263.35 358.38,263.16 361.00,263.08 363.08,262.95 365.27,262.75 367.42,263.02 370.26,263.66 372.43,263.19 375.01,263.56 377.16,263.49 377.50,263.59" fill="none" stroke="#e0107a" stroke-width="0.8" stroke-linejoin="round"/>
<polyline points="268.00,263.60 292.00,263.60 293.30,221.84 295.00,230.96 298.00,229.04 302.00,232.88 306.00,231.92 312.00,235.76 320.00,239.60 330.00,244.40 340.00,249.20 350.00,254.00 360.00,257.84 370.00,260.24 377.50,261.20" fill="none" stroke="#9030d0" stroke-width="0.8" stroke-linejoin="round"/>
<polyline points="268.00,263.60 292.00,263.60 295.00,240.56 299.00,231.92 302.00,229.04 304.00,226.16 306.00,230.00 310.00,234.80 316.00,238.64 324.00,243.44 332.00,249.20 340.00,254.00 350.00,257.84 362.00,260.24 377.50,261.68" fill="none" stroke="#ff1f8f" stroke-width="0.8" stroke-linejoin="round"/>
<polyline points="268.00,263.60 292.00,263.60 295.00,240.56 302.00,238.64 310.00,242.48 320.00,246.32 330.00,250.64 336.00,253.04 338.80,244.88 341.00,252.56 346.00,254.96 356.00,258.32 366.00,260.24 377.50,261.20" fill="none" stroke="#138f8f" stroke-width="0.8" stroke-linejoin="round"/>
<polyline points="268.00,263.60 292.00,263.60 296.00,238.64 304.00,232.88 310.00,235.76 320.00,241.52 330.00,246.80 340.00,251.12 350.00,254.48 360.00,257.36 370.00,259.28 377.50,260.24" fill="none" stroke="#202020" stroke-width="0.8" stroke-linejoin="round"/>
<polyline points="268.00,263.60 291.00,263.60 292.00,229.04 295.00,232.88 300.00,233.84 306.00,235.76 312.00,238.64 320.00,243.44 330.00,248.24 340.00,253.04 350.00,256.88 362.00,259.76 377.50,261.20" fill="none" stroke="#202020" stroke-width="0.8" stroke-linejoin="round"/>
<polyline points="268.00,263.60 292.00,263.60 296.00,260.72 300.00,254.00 303.00,248.24 306.00,247.28 312.00,248.24 322.00,251.12 334.00,254.96 346.00,258.32 360.00,260.72 377.50,262.16" fill="none" stroke="#ff1f8f" stroke-width="0.8" stroke-linejoin="round"/>
<polyline points="268.00,263.60 292.00,263.60 294.00,254.00 298.00,247.28 306.00,246.32 314.00,248.24 324.00,251.12 334.00,254.96 346.00,258.32 360.00,260.72 377.50,262.16" fill="none" stroke="#e0107a" stroke-width="0.8" stroke-linejoin="round"/>
<polyline points="268.00,263.60 292.00,263.60 293.00,244.40 296.00,236.72 300.00,241.52 306.00,239.60 314.00,241.52 322.00,244.40 330.00,248.24 340.00,252.08 350.00,255.92 362.00,259.28 377.50,260.72" fill="none" stroke="#138f8f" stroke-width="0.8" stroke-linejoin="round"/>
<polyline points="268.00,263.60 292.00,263.60 293.50,234.80 298.00,232.88 303.00,230.00 308.00,233.84 316.00,237.68 326.00,242.48 336.00,248.24 346.00,254.00 358.00,258.80 377.50,261.68" fill="none" stroke="#202070" stroke-width="0.8" stroke-linejoin="round"/>
<polyline points="268.00,263.60 292.00,263.60 298.00,259.76 304.00,258.99 312.00,259.28 322.00,259.95 332.00,260.91 342.00,261.97 352.00,262.93 362.00,263.60 377.50,264.08" fill="none" stroke="#66ccf5" stroke-width="1.1" stroke-linejoin="round" stroke-dasharray="1.2,0.5"/>
<polyline points="268.00,263.60 292.00,263.60 298.00,261.68 304.00,261.01 312.00,261.20 322.00,262.16 332.00,263.31 342.00,264.56 352.00,265.52 362.00,266.48 377.50,267.92" fill="none" stroke="#66ccf5" stroke-width="1.1" stroke-linejoin="round" stroke-dasharray="1.2,0.5"/>
<polyline points="268.00,263.60 292.00,263.60" fill="none" stroke="#202070" stroke-width="1.4" stroke-linejoin="round"/>
<line x1="269" y1="234.5" x2="378" y2="234.5" stroke="#000" stroke-width="1" stroke-dasharray="1,1"/>
<text x="412.20" y="233.20" font-size="7.0" text-anchor="middle" font-weight="bold" fill="#111">Average Peak of</text>
<text x="411.80" y="241.40" font-size="7.0" text-anchor="middle" font-weight="bold" fill="#111">Responsive Cells</text>
<line x1="386.80" y1="264.40" x2="401.80" y2="264.40" stroke="#111" stroke-width="1.0"/>
<text x="394.30" y="272.60" font-size="7.75" text-anchor="middle" fill="#111">1 min</text>
<line x1="288.70" y1="269.20" x2="288.70" y2="275.80" stroke="#111" stroke-width="1.1"/>
<path d="M288.70,267.10 L286.50,270.60 L290.90,270.60 Z" fill="#111"/>
<line x1="327.80" y1="276.70" x2="319.89" y2="269.53" stroke="#111" stroke-width="1.1"/>
<path d="M318.20,268.00 L322.49,268.92 L319.54,272.18 Z" fill="#111"/>
<text x="300.80" y="287.00" font-size="7.75" fill="#111">Majority of cells responding</text>
<text x="6.20" y="312.20" font-size="22" font-weight="bold" fill="#000">d</text>
<text x="67.40" y="310.80" font-size="7.75" font-style="italic" fill="#1a1a1a">Beas-2B</text>
<text x="67.40" y="319.60" font-size="7.75" font-style="italic" fill="#1a1a1a">15 mM Denatonium</text>
<line x1="64.50" y1="321.70" x2="64.50" y2="394.40" stroke="#2a2a2a" stroke-width="1.0"/>
<line x1="61.60" y1="394.40" x2="64.50" y2="394.40" stroke="#2a2a2a" stroke-width="1.0"/>
<text x="61.10" y="396.64" font-size="5.6" text-anchor="end" font-weight="bold" fill="#222">40</text>
<line x1="61.60" y1="382.28" x2="64.50" y2="382.28" stroke="#2a2a2a" stroke-width="1.0"/>
<text x="61.10" y="384.52" font-size="5.6" text-anchor="end" font-weight="bold" fill="#222">50</text>
<line x1="61.60" y1="370.17" x2="64.50" y2="370.17" stroke="#2a2a2a" stroke-width="1.0"/>
<text x="61.10" y="372.41" font-size="5.6" text-anchor="end" font-weight="bold" fill="#222">60</text>
<line x1="61.60" y1="358.05" x2="64.50" y2="358.05" stroke="#2a2a2a" stroke-width="1.0"/>
<text x="61.10" y="360.29" font-size="5.6" text-anchor="end" font-weight="bold" fill="#222">70</text>
<line x1="61.60" y1="345.93" x2="64.50" y2="345.93" stroke="#2a2a2a" stroke-width="1.0"/>
<text x="61.10" y="348.17" font-size="5.6" text-anchor="end" font-weight="bold" fill="#222">80</text>
<line x1="61.60" y1="333.81" x2="64.50" y2="333.81" stroke="#2a2a2a" stroke-width="1.0"/>
<text x="61.10" y="336.06" font-size="5.6" text-anchor="end" font-weight="bold" fill="#222">90</text>
<line x1="61.60" y1="321.70" x2="64.50" y2="321.70" stroke="#2a2a2a" stroke-width="1.0"/>
<text x="61.10" y="323.94" font-size="5.6" text-anchor="end" font-weight="bold" fill="#222">100</text>
<line x1="64.50" y1="394.40" x2="112.00" y2="394.40" stroke="#2a2a2a" stroke-width="1.0"/>
<line x1="78.40" y1="394.40" x2="78.40" y2="396.80" stroke="#2a2a2a" stroke-width="1.0"/>
<line x1="99.40" y1="394.40" x2="99.40" y2="396.80" stroke="#2a2a2a" stroke-width="1.0"/>
<line x1="78.45" y1="356.11" x2="78.45" y2="346.90" stroke="#777" stroke-width="1.3"/>
<line x1="75.20" y1="346.90" x2="81.70" y2="346.90" stroke="#777" stroke-width="1.3"/>
<rect x="72.45" y="356.76" width="12.00" height="36.99" fill="#0d0d86" stroke="#000" stroke-width="1.3"/>
<line x1="99.15" y1="335.03" x2="99.15" y2="331.39" stroke="#777" stroke-width="1.3"/>
<line x1="95.90" y1="331.39" x2="102.40" y2="331.39" stroke="#777" stroke-width="1.3"/>
<rect x="92.75" y="335.68" width="12.80" height="58.07" fill="#6a06aa" stroke="#000" stroke-width="1.3"/>
<text x="99.00" y="330.00" font-size="9.5" text-anchor="middle" font-weight="bold" fill="#111">*</text>
<text x="43.20" y="358.30" font-size="7.8" text-anchor="middle" fill="#111" transform="rotate(-90 43.2 358.3)">Cells Responding (%)</text>
<text x="68.40" y="409.30" font-size="7.75" text-anchor="end" fill="#111">100 µM Isoprot.:</text>
<text x="68.40" y="417.70" font-size="7.75" text-anchor="end" fill="#111">1 hr pretreatment</text>
<text x="78.80" y="409.00" font-size="7.75" text-anchor="middle" fill="#111">–</text>
<text x="99.60" y="409.00" font-size="7.75" text-anchor="middle" fill="#111">+</text>
<text x="187.40" y="310.80" font-size="7.75" font-style="italic" fill="#1a1a1a">Beas-2B</text>
<text x="187.40" y="319.60" font-size="7.75" font-style="italic" fill="#1a1a1a">15 mM Denatonium</text>
<line x1="185.20" y1="321.95" x2="185.20" y2="394.40" stroke="#2a2a2a" stroke-width="1.0"/>
<line x1="182.30" y1="394.40" x2="185.20" y2="394.40" stroke="#2a2a2a" stroke-width="1.0"/>
<text x="181.60" y="396.76" font-size="5.9" text-anchor="end" font-weight="bold" fill="#222">0</text>
<line x1="182.30" y1="379.91" x2="185.20" y2="379.91" stroke="#2a2a2a" stroke-width="1.0"/>
<text x="181.60" y="382.27" font-size="5.9" text-anchor="end" font-weight="bold" fill="#222">25</text>
<line x1="182.30" y1="365.42" x2="185.20" y2="365.42" stroke="#2a2a2a" stroke-width="1.0"/>
<text x="181.60" y="367.78" font-size="5.9" text-anchor="end" font-weight="bold" fill="#222">50</text>
<line x1="182.30" y1="350.93" x2="185.20" y2="350.93" stroke="#2a2a2a" stroke-width="1.0"/>
<text x="181.60" y="353.29" font-size="5.9" text-anchor="end" font-weight="bold" fill="#222">75</text>
<line x1="182.30" y1="336.44" x2="185.20" y2="336.44" stroke="#2a2a2a" stroke-width="1.0"/>
<text x="181.60" y="338.80" font-size="5.9" text-anchor="end" font-weight="bold" fill="#222">100</text>
<line x1="182.30" y1="321.95" x2="185.20" y2="321.95" stroke="#2a2a2a" stroke-width="1.0"/>
<text x="181.60" y="324.31" font-size="5.9" text-anchor="end" font-weight="bold" fill="#222">125</text>
<line x1="185.20" y1="394.40" x2="230.80" y2="394.40" stroke="#2a2a2a" stroke-width="1.0"/>
<line x1="198.60" y1="394.40" x2="198.60" y2="396.80" stroke="#2a2a2a" stroke-width="1.0"/>
<line x1="219.90" y1="394.40" x2="219.90" y2="396.80" stroke="#2a2a2a" stroke-width="1.0"/>
<line x1="199.05" y1="336.44" x2="199.05" y2="331.22" stroke="#777" stroke-width="1.1"/>
<line x1="195.55" y1="331.22" x2="202.55" y2="331.22" stroke="#777" stroke-width="1.1"/>
<rect x="192.85" y="336.99" width="12.40" height="56.86" fill="#0d0d86" stroke="#000" stroke-width="1.1"/>
<line x1="219.95" y1="349.48" x2="219.95" y2="347.16" stroke="#777" stroke-width="1.1"/>
<line x1="216.45" y1="347.16" x2="223.45" y2="347.16" stroke="#777" stroke-width="1.1"/>
<rect x="213.85" y="350.03" width="12.20" height="43.82" fill="#6a06aa" stroke="#000" stroke-width="1.1"/>
<text x="219.90" y="345.30" font-size="9.5" text-anchor="middle" font-weight="bold" fill="#111">*</text>
<text x="136.30" y="358.60" font-size="7.75" text-anchor="middle" fill="#111" transform="rotate(-90 136.3 358.6)">Peak Fluo-8</text>
<text x="144.50" y="358.60" font-size="7.75" text-anchor="middle" fill="#111" transform="rotate(-90 144.5 358.6)">Fluorescence</text>
<text x="152.40" y="358.60" font-size="7.75" text-anchor="middle" fill="#111" transform="rotate(-90 152.4 358.6)">per Responsive Cell</text>
<text x="161.20" y="358.60" font-size="7.75" text-anchor="middle" fill="#111" transform="rotate(-90 161.2 358.6)">(Normalized to Control)</text>
<text x="189.60" y="408.00" font-size="7.75" text-anchor="end" fill="#111">100 µM Isoprot.:</text>
<text x="189.60" y="416.70" font-size="7.75" text-anchor="end" fill="#111">1 hr pretreatment</text>
<text x="199.00" y="408.00" font-size="7.75" text-anchor="middle" fill="#111">–</text>
<text x="219.90" y="408.00" font-size="7.75" text-anchor="middle" fill="#111">+</text>
<text x="260.00" y="312.50" font-size="22" font-weight="bold" fill="#000">e</text>
<text x="304.00" y="318.50" font-size="7.75" font-style="italic" fill="#1a1a1a">Beas-2B</text>
<line x1="301.40" y1="321.68" x2="301.40" y2="394.00" stroke="#2a2a2a" stroke-width="1.0"/>
<line x1="298.50" y1="388.40" x2="301.40" y2="388.40" stroke="#2a2a2a" stroke-width="1.0"/>
<text x="297.60" y="391.20" font-size="7.0" text-anchor="end" fill="#222">1</text>
<line x1="298.50" y1="371.72" x2="301.40" y2="371.72" stroke="#2a2a2a" stroke-width="1.0"/>
<text x="297.60" y="374.52" font-size="7.0" text-anchor="end" fill="#222">2</text>
<line x1="298.50" y1="355.04" x2="301.40" y2="355.04" stroke="#2a2a2a" stroke-width="1.0"/>
<text x="297.60" y="357.84" font-size="7.0" text-anchor="end" fill="#222">3</text>
<line x1="298.50" y1="338.36" x2="301.40" y2="338.36" stroke="#2a2a2a" stroke-width="1.0"/>
<text x="297.60" y="341.16" font-size="7.0" text-anchor="end" fill="#222">4</text>
<line x1="298.50" y1="321.68" x2="301.40" y2="321.68" stroke="#2a2a2a" stroke-width="1.0"/>
<text x="297.60" y="324.48" font-size="7.0" text-anchor="end" fill="#222">5</text>
<text x="277.10" y="356.70" font-size="7.3" text-anchor="middle" fill="#111" transform="rotate(-90 277.1 356.7)">Intracellular Ca<tspan dy="-3" font-size="5">2+</tspan></text>
<text x="286.00" y="355.50" font-size="7.75" text-anchor="middle" fill="#111" transform="rotate(-90 286.0 355.5)">Fluo-8 Fluorescence (F/F<tspan dy="1.6" font-size="5">0</tspan><tspan dy="-1.6">)</tspan></text>
<line x1="301.60" y1="388.40" x2="317.20" y2="388.40" stroke="#6a96da" stroke-width="2.6"/>
<line x1="316.90" y1="388.40" x2="316.90" y2="336.69" stroke="#c8b8f0" stroke-width="0.6"/>
<line x1="316.30" y1="388.40" x2="316.30" y2="358.38" stroke="#a8c4ee" stroke-width="0.6"/>
<line x1="317.20" y1="329.52" x2="317.20" y2="342.20" stroke="#b9a0ea" stroke-width="0.7"/>
<line x1="316.20" y1="329.52" x2="318.20" y2="329.52" stroke="#b9a0ea" stroke-width="0.7"/>
<line x1="316.20" y1="342.20" x2="318.20" y2="342.20" stroke="#b9a0ea" stroke-width="0.7"/>
<line x1="319.30" y1="341.49" x2="319.30" y2="351.50" stroke="#b9a0ea" stroke-width="0.7"/>
<line x1="318.30" y1="341.49" x2="320.30" y2="341.49" stroke="#b9a0ea" stroke-width="0.7"/>
<line x1="318.30" y1="351.50" x2="320.30" y2="351.50" stroke="#b9a0ea" stroke-width="0.7"/>
<line x1="321.35" y1="340.64" x2="321.35" y2="350.65" stroke="#b9a0ea" stroke-width="0.7"/>
<line x1="320.35" y1="340.64" x2="322.35" y2="340.64" stroke="#b9a0ea" stroke-width="0.7"/>
<line x1="320.35" y1="350.65" x2="322.35" y2="350.65" stroke="#b9a0ea" stroke-width="0.7"/>
<line x1="323.40" y1="340.40" x2="323.40" y2="350.40" stroke="#b9a0ea" stroke-width="0.7"/>
<line x1="322.40" y1="340.40" x2="324.40" y2="340.40" stroke="#b9a0ea" stroke-width="0.7"/>
<line x1="322.40" y1="350.40" x2="324.40" y2="350.40" stroke="#b9a0ea" stroke-width="0.7"/>
<line x1="325.45" y1="341.54" x2="325.45" y2="351.54" stroke="#b9a0ea" stroke-width="0.7"/>
<line x1="324.45" y1="341.54" x2="326.45" y2="341.54" stroke="#b9a0ea" stroke-width="0.7"/>
<line x1="324.45" y1="351.54" x2="326.45" y2="351.54" stroke="#b9a0ea" stroke-width="0.7"/>
<line x1="327.50" y1="340.09" x2="327.50" y2="350.10" stroke="#b9a0ea" stroke-width="0.7"/>
<line x1="326.50" y1="340.09" x2="328.50" y2="340.09" stroke="#b9a0ea" stroke-width="0.7"/>
<line x1="326.50" y1="350.10" x2="328.50" y2="350.10" stroke="#b9a0ea" stroke-width="0.7"/>
<line x1="329.55" y1="340.35" x2="329.55" y2="350.36" stroke="#b9a0ea" stroke-width="0.7"/>
<line x1="328.55" y1="340.35" x2="330.55" y2="340.35" stroke="#b9a0ea" stroke-width="0.7"/>
<line x1="328.55" y1="350.36" x2="330.55" y2="350.36" stroke="#b9a0ea" stroke-width="0.7"/>
<line x1="331.60" y1="341.36" x2="331.60" y2="351.37" stroke="#b9a0ea" stroke-width="0.7"/>
<line x1="330.60" y1="341.36" x2="332.60" y2="341.36" stroke="#b9a0ea" stroke-width="0.7"/>
<line x1="330.60" y1="351.37" x2="332.60" y2="351.37" stroke="#b9a0ea" stroke-width="0.7"/>
<line x1="333.65" y1="341.60" x2="333.65" y2="351.60" stroke="#b9a0ea" stroke-width="0.7"/>
<line x1="332.65" y1="341.60" x2="334.65" y2="341.60" stroke="#b9a0ea" stroke-width="0.7"/>
<line x1="332.65" y1="351.60" x2="334.65" y2="351.60" stroke="#b9a0ea" stroke-width="0.7"/>
<line x1="335.70" y1="342.86" x2="335.70" y2="352.87" stroke="#b9a0ea" stroke-width="0.7"/>
<line x1="334.70" y1="342.86" x2="336.70" y2="342.86" stroke="#b9a0ea" stroke-width="0.7"/>
<line x1="334.70" y1="352.87" x2="336.70" y2="352.87" stroke="#b9a0ea" stroke-width="0.7"/>
<line x1="337.75" y1="343.11" x2="337.75" y2="353.12" stroke="#b9a0ea" stroke-width="0.7"/>
<line x1="336.75" y1="343.11" x2="338.75" y2="343.11" stroke="#b9a0ea" stroke-width="0.7"/>
<line x1="336.75" y1="353.12" x2="338.75" y2="353.12" stroke="#b9a0ea" stroke-width="0.7"/>
<line x1="339.80" y1="343.19" x2="339.80" y2="353.20" stroke="#b9a0ea" stroke-width="0.7"/>
<line x1="338.80" y1="343.19" x2="340.80" y2="343.19" stroke="#b9a0ea" stroke-width="0.7"/>
<line x1="338.80" y1="353.20" x2="340.80" y2="353.20" stroke="#b9a0ea" stroke-width="0.7"/>
<line x1="341.85" y1="344.03" x2="341.85" y2="354.04" stroke="#b9a0ea" stroke-width="0.7"/>
<line x1="340.85" y1="344.03" x2="342.85" y2="344.03" stroke="#b9a0ea" stroke-width="0.7"/>
<line x1="340.85" y1="354.04" x2="342.85" y2="354.04" stroke="#b9a0ea" stroke-width="0.7"/>
<line x1="343.90" y1="345.70" x2="343.90" y2="355.71" stroke="#b9a0ea" stroke-width="0.7"/>
<line x1="342.90" y1="345.70" x2="344.90" y2="345.70" stroke="#b9a0ea" stroke-width="0.7"/>
<line x1="342.90" y1="355.71" x2="344.90" y2="355.71" stroke="#b9a0ea" stroke-width="0.7"/>
<line x1="345.95" y1="348.69" x2="345.95" y2="358.69" stroke="#b9a0ea" stroke-width="0.7"/>
<line x1="344.95" y1="348.69" x2="346.95" y2="348.69" stroke="#b9a0ea" stroke-width="0.7"/>
<line x1="344.95" y1="358.69" x2="346.95" y2="358.69" stroke="#b9a0ea" stroke-width="0.7"/>
<line x1="348.00" y1="350.30" x2="348.00" y2="360.31" stroke="#b9a0ea" stroke-width="0.7"/>
<line x1="347.00" y1="350.30" x2="349.00" y2="350.30" stroke="#b9a0ea" stroke-width="0.7"/>
<line x1="347.00" y1="360.31" x2="349.00" y2="360.31" stroke="#b9a0ea" stroke-width="0.7"/>
<line x1="350.05" y1="350.92" x2="350.05" y2="360.93" stroke="#b9a0ea" stroke-width="0.7"/>
<line x1="349.05" y1="350.92" x2="351.05" y2="350.92" stroke="#b9a0ea" stroke-width="0.7"/>
<line x1="349.05" y1="360.93" x2="351.05" y2="360.93" stroke="#b9a0ea" stroke-width="0.7"/>
<line x1="352.10" y1="353.92" x2="352.10" y2="363.92" stroke="#b9a0ea" stroke-width="0.7"/>
<line x1="351.10" y1="353.92" x2="353.10" y2="353.92" stroke="#b9a0ea" stroke-width="0.7"/>
<line x1="351.10" y1="363.92" x2="353.10" y2="363.92" stroke="#b9a0ea" stroke-width="0.7"/>
<line x1="354.15" y1="355.34" x2="354.15" y2="365.35" stroke="#b9a0ea" stroke-width="0.7"/>
<line x1="353.15" y1="355.34" x2="355.15" y2="355.34" stroke="#b9a0ea" stroke-width="0.7"/>
<line x1="353.15" y1="365.35" x2="355.15" y2="365.35" stroke="#b9a0ea" stroke-width="0.7"/>
<line x1="356.20" y1="357.74" x2="356.20" y2="367.75" stroke="#b9a0ea" stroke-width="0.7"/>
<line x1="355.20" y1="357.74" x2="357.20" y2="357.74" stroke="#b9a0ea" stroke-width="0.7"/>
<line x1="355.20" y1="367.75" x2="357.20" y2="367.75" stroke="#b9a0ea" stroke-width="0.7"/>
<line x1="358.25" y1="358.77" x2="358.25" y2="368.77" stroke="#b9a0ea" stroke-width="0.7"/>
<line x1="357.25" y1="358.77" x2="359.25" y2="358.77" stroke="#b9a0ea" stroke-width="0.7"/>
<line x1="357.25" y1="368.77" x2="359.25" y2="368.77" stroke="#b9a0ea" stroke-width="0.7"/>
<line x1="360.30" y1="360.08" x2="360.30" y2="370.09" stroke="#b9a0ea" stroke-width="0.7"/>
<line x1="359.30" y1="360.08" x2="361.30" y2="360.08" stroke="#b9a0ea" stroke-width="0.7"/>
<line x1="359.30" y1="370.09" x2="361.30" y2="370.09" stroke="#b9a0ea" stroke-width="0.7"/>
<line x1="362.35" y1="362.62" x2="362.35" y2="372.63" stroke="#b9a0ea" stroke-width="0.7"/>
<line x1="361.35" y1="362.62" x2="363.35" y2="362.62" stroke="#b9a0ea" stroke-width="0.7"/>
<line x1="361.35" y1="372.63" x2="363.35" y2="372.63" stroke="#b9a0ea" stroke-width="0.7"/>
<line x1="364.40" y1="364.63" x2="364.40" y2="374.64" stroke="#b9a0ea" stroke-width="0.7"/>
<line x1="363.40" y1="364.63" x2="365.40" y2="364.63" stroke="#b9a0ea" stroke-width="0.7"/>
<line x1="363.40" y1="374.64" x2="365.40" y2="374.64" stroke="#b9a0ea" stroke-width="0.7"/>
<line x1="366.45" y1="366.03" x2="366.45" y2="376.04" stroke="#b9a0ea" stroke-width="0.7"/>
<line x1="365.45" y1="366.03" x2="367.45" y2="366.03" stroke="#b9a0ea" stroke-width="0.7"/>
<line x1="365.45" y1="376.04" x2="367.45" y2="376.04" stroke="#b9a0ea" stroke-width="0.7"/>
<line x1="368.50" y1="368.00" x2="368.50" y2="378.01" stroke="#b9a0ea" stroke-width="0.7"/>
<line x1="367.50" y1="368.00" x2="369.50" y2="368.00" stroke="#b9a0ea" stroke-width="0.7"/>
<line x1="367.50" y1="378.01" x2="369.50" y2="378.01" stroke="#b9a0ea" stroke-width="0.7"/>
<line x1="370.55" y1="368.79" x2="370.55" y2="378.79" stroke="#b9a0ea" stroke-width="0.7"/>
<line x1="369.55" y1="368.79" x2="371.55" y2="368.79" stroke="#b9a0ea" stroke-width="0.7"/>
<line x1="369.55" y1="378.79" x2="371.55" y2="378.79" stroke="#b9a0ea" stroke-width="0.7"/>
<line x1="372.60" y1="369.33" x2="372.60" y2="379.34" stroke="#b9a0ea" stroke-width="0.7"/>
<line x1="371.60" y1="369.33" x2="373.60" y2="369.33" stroke="#b9a0ea" stroke-width="0.7"/>
<line x1="371.60" y1="379.34" x2="373.60" y2="379.34" stroke="#b9a0ea" stroke-width="0.7"/>
<line x1="316.50" y1="349.20" x2="316.50" y2="365.88" stroke="#95b8ea" stroke-width="0.7"/>
<line x1="315.50" y1="349.20" x2="317.50" y2="349.20" stroke="#95b8ea" stroke-width="0.7"/>
<line x1="315.50" y1="365.88" x2="317.50" y2="365.88" stroke="#95b8ea" stroke-width="0.7"/>
<line x1="318.90" y1="359.09" x2="318.90" y2="367.76" stroke="#95b8ea" stroke-width="0.7"/>
<line x1="317.90" y1="359.09" x2="319.90" y2="359.09" stroke="#95b8ea" stroke-width="0.7"/>
<line x1="317.90" y1="367.76" x2="319.90" y2="367.76" stroke="#95b8ea" stroke-width="0.7"/>
<line x1="320.95" y1="356.19" x2="320.95" y2="364.87" stroke="#95b8ea" stroke-width="0.7"/>
<line x1="319.95" y1="356.19" x2="321.95" y2="356.19" stroke="#95b8ea" stroke-width="0.7"/>
<line x1="319.95" y1="364.87" x2="321.95" y2="364.87" stroke="#95b8ea" stroke-width="0.7"/>
<line x1="323.00" y1="354.60" x2="323.00" y2="363.27" stroke="#95b8ea" stroke-width="0.7"/>
<line x1="322.00" y1="354.60" x2="324.00" y2="354.60" stroke="#95b8ea" stroke-width="0.7"/>
<line x1="322.00" y1="363.27" x2="324.00" y2="363.27" stroke="#95b8ea" stroke-width="0.7"/>
<line x1="325.05" y1="353.98" x2="325.05" y2="362.65" stroke="#95b8ea" stroke-width="0.7"/>
<line x1="324.05" y1="353.98" x2="326.05" y2="353.98" stroke="#95b8ea" stroke-width="0.7"/>
<line x1="324.05" y1="362.65" x2="326.05" y2="362.65" stroke="#95b8ea" stroke-width="0.7"/>
<line x1="327.10" y1="352.88" x2="327.10" y2="361.55" stroke="#95b8ea" stroke-width="0.7"/>
<line x1="326.10" y1="352.88" x2="328.10" y2="352.88" stroke="#95b8ea" stroke-width="0.7"/>
<line x1="326.10" y1="361.55" x2="328.10" y2="361.55" stroke="#95b8ea" stroke-width="0.7"/>
<line x1="329.15" y1="353.37" x2="329.15" y2="362.04" stroke="#95b8ea" stroke-width="0.7"/>
<line x1="328.15" y1="353.37" x2="330.15" y2="353.37" stroke="#95b8ea" stroke-width="0.7"/>
<line x1="328.15" y1="362.04" x2="330.15" y2="362.04" stroke="#95b8ea" stroke-width="0.7"/>
<line x1="331.20" y1="354.04" x2="331.20" y2="362.72" stroke="#95b8ea" stroke-width="0.7"/>
<line x1="330.20" y1="354.04" x2="332.20" y2="354.04" stroke="#95b8ea" stroke-width="0.7"/>
<line x1="330.20" y1="362.72" x2="332.20" y2="362.72" stroke="#95b8ea" stroke-width="0.7"/>
<line x1="333.25" y1="354.45" x2="333.25" y2="363.12" stroke="#95b8ea" stroke-width="0.7"/>
<line x1="332.25" y1="354.45" x2="334.25" y2="354.45" stroke="#95b8ea" stroke-width="0.7"/>
<line x1="332.25" y1="363.12" x2="334.25" y2="363.12" stroke="#95b8ea" stroke-width="0.7"/>
<line x1="335.30" y1="355.76" x2="335.30" y2="364.44" stroke="#95b8ea" stroke-width="0.7"/>
<line x1="334.30" y1="355.76" x2="336.30" y2="355.76" stroke="#95b8ea" stroke-width="0.7"/>
<line x1="334.30" y1="364.44" x2="336.30" y2="364.44" stroke="#95b8ea" stroke-width="0.7"/>
<line x1="337.35" y1="355.80" x2="337.35" y2="364.48" stroke="#95b8ea" stroke-width="0.7"/>
<line x1="336.35" y1="355.80" x2="338.35" y2="355.80" stroke="#95b8ea" stroke-width="0.7"/>
<line x1="336.35" y1="364.48" x2="338.35" y2="364.48" stroke="#95b8ea" stroke-width="0.7"/>
<line x1="339.40" y1="357.99" x2="339.40" y2="366.66" stroke="#95b8ea" stroke-width="0.7"/>
<line x1="338.40" y1="357.99" x2="340.40" y2="357.99" stroke="#95b8ea" stroke-width="0.7"/>
<line x1="338.40" y1="366.66" x2="340.40" y2="366.66" stroke="#95b8ea" stroke-width="0.7"/>
<line x1="341.45" y1="358.96" x2="341.45" y2="367.64" stroke="#95b8ea" stroke-width="0.7"/>
<line x1="340.45" y1="358.96" x2="342.45" y2="358.96" stroke="#95b8ea" stroke-width="0.7"/>
<line x1="340.45" y1="367.64" x2="342.45" y2="367.64" stroke="#95b8ea" stroke-width="0.7"/>
<line x1="343.50" y1="359.83" x2="343.50" y2="368.51" stroke="#95b8ea" stroke-width="0.7"/>
<line x1="342.50" y1="359.83" x2="344.50" y2="359.83" stroke="#95b8ea" stroke-width="0.7"/>
<line x1="342.50" y1="368.51" x2="344.50" y2="368.51" stroke="#95b8ea" stroke-width="0.7"/>
<line x1="345.55" y1="359.91" x2="345.55" y2="368.58" stroke="#95b8ea" stroke-width="0.7"/>
<line x1="344.55" y1="359.91" x2="346.55" y2="359.91" stroke="#95b8ea" stroke-width="0.7"/>
<line x1="344.55" y1="368.58" x2="346.55" y2="368.58" stroke="#95b8ea" stroke-width="0.7"/>
<line x1="347.60" y1="361.92" x2="347.60" y2="370.60" stroke="#95b8ea" stroke-width="0.7"/>
<line x1="346.60" y1="361.92" x2="348.60" y2="361.92" stroke="#95b8ea" stroke-width="0.7"/>
<line x1="346.60" y1="370.60" x2="348.60" y2="370.60" stroke="#95b8ea" stroke-width="0.7"/>
<line x1="349.65" y1="362.16" x2="349.65" y2="370.84" stroke="#95b8ea" stroke-width="0.7"/>
<line x1="348.65" y1="362.16" x2="350.65" y2="362.16" stroke="#95b8ea" stroke-width="0.7"/>
<line x1="348.65" y1="370.84" x2="350.65" y2="370.84" stroke="#95b8ea" stroke-width="0.7"/>
<line x1="351.70" y1="363.10" x2="351.70" y2="371.77" stroke="#95b8ea" stroke-width="0.7"/>
<line x1="350.70" y1="363.10" x2="352.70" y2="363.10" stroke="#95b8ea" stroke-width="0.7"/>
<line x1="350.70" y1="371.77" x2="352.70" y2="371.77" stroke="#95b8ea" stroke-width="0.7"/>
<line x1="353.75" y1="364.53" x2="353.75" y2="373.20" stroke="#95b8ea" stroke-width="0.7"/>
<line x1="352.75" y1="364.53" x2="354.75" y2="364.53" stroke="#95b8ea" stroke-width="0.7"/>
<line x1="352.75" y1="373.20" x2="354.75" y2="373.20" stroke="#95b8ea" stroke-width="0.7"/>
<line x1="355.80" y1="365.23" x2="355.80" y2="373.90" stroke="#95b8ea" stroke-width="0.7"/>
<line x1="354.80" y1="365.23" x2="356.80" y2="365.23" stroke="#95b8ea" stroke-width="0.7"/>
<line x1="354.80" y1="373.90" x2="356.80" y2="373.90" stroke="#95b8ea" stroke-width="0.7"/>
<line x1="357.85" y1="366.25" x2="357.85" y2="374.92" stroke="#95b8ea" stroke-width="0.7"/>
<line x1="356.85" y1="366.25" x2="358.85" y2="366.25" stroke="#95b8ea" stroke-width="0.7"/>
<line x1="356.85" y1="374.92" x2="358.85" y2="374.92" stroke="#95b8ea" stroke-width="0.7"/>
<line x1="359.90" y1="368.16" x2="359.90" y2="376.83" stroke="#95b8ea" stroke-width="0.7"/>
<line x1="358.90" y1="368.16" x2="360.90" y2="368.16" stroke="#95b8ea" stroke-width="0.7"/>
<line x1="358.90" y1="376.83" x2="360.90" y2="376.83" stroke="#95b8ea" stroke-width="0.7"/>
<line x1="361.95" y1="369.35" x2="361.95" y2="378.02" stroke="#95b8ea" stroke-width="0.7"/>
<line x1="360.95" y1="369.35" x2="362.95" y2="369.35" stroke="#95b8ea" stroke-width="0.7"/>
<line x1="360.95" y1="378.02" x2="362.95" y2="378.02" stroke="#95b8ea" stroke-width="0.7"/>
<line x1="364.00" y1="370.50" x2="364.00" y2="379.17" stroke="#95b8ea" stroke-width="0.7"/>
<line x1="363.00" y1="370.50" x2="365.00" y2="370.50" stroke="#95b8ea" stroke-width="0.7"/>
<line x1="363.00" y1="379.17" x2="365.00" y2="379.17" stroke="#95b8ea" stroke-width="0.7"/>
<line x1="366.05" y1="370.80" x2="366.05" y2="379.47" stroke="#95b8ea" stroke-width="0.7"/>
<line x1="365.05" y1="370.80" x2="367.05" y2="370.80" stroke="#95b8ea" stroke-width="0.7"/>
<line x1="365.05" y1="379.47" x2="367.05" y2="379.47" stroke="#95b8ea" stroke-width="0.7"/>
<line x1="368.10" y1="371.82" x2="368.10" y2="380.49" stroke="#95b8ea" stroke-width="0.7"/>
<line x1="367.10" y1="371.82" x2="369.10" y2="371.82" stroke="#95b8ea" stroke-width="0.7"/>
<line x1="367.10" y1="380.49" x2="369.10" y2="380.49" stroke="#95b8ea" stroke-width="0.7"/>
<line x1="370.15" y1="373.60" x2="370.15" y2="382.27" stroke="#95b8ea" stroke-width="0.7"/>
<line x1="369.15" y1="373.60" x2="371.15" y2="373.60" stroke="#95b8ea" stroke-width="0.7"/>
<line x1="369.15" y1="382.27" x2="371.15" y2="382.27" stroke="#95b8ea" stroke-width="0.7"/>
<line x1="372.20" y1="374.66" x2="372.20" y2="383.33" stroke="#95b8ea" stroke-width="0.7"/>
<line x1="371.20" y1="374.66" x2="373.20" y2="374.66" stroke="#95b8ea" stroke-width="0.7"/>
<line x1="371.20" y1="383.33" x2="373.20" y2="383.33" stroke="#95b8ea" stroke-width="0.7"/>
<polyline points="317.20,335.86 319.30,346.49 321.35,345.65 323.40,345.40 325.45,346.54 327.50,345.09 329.55,345.36 331.60,346.36 333.65,346.60 335.70,347.86 337.75,348.11 339.80,348.20 341.85,349.04 343.90,350.70 345.95,353.69 348.00,355.31 350.05,355.92 352.10,358.92 354.15,360.34 356.20,362.74 358.25,363.77 360.30,365.08 362.35,367.63 364.40,369.64 366.45,371.03 368.50,373.00 370.55,373.79 372.60,374.33" fill="none" stroke="#a07fdc" stroke-width="0.9" stroke-linejoin="round"/>
<polyline points="316.50,357.54 318.90,363.42 320.95,360.53 323.00,358.94 325.05,358.32 327.10,357.22 329.15,357.70 331.20,358.38 333.25,358.79 335.30,360.10 337.35,360.14 339.40,362.32 341.45,363.30 343.50,364.17 345.55,364.25 347.60,366.26 349.65,366.50 351.70,367.43 353.75,368.87 355.80,369.57 357.85,370.58 359.90,372.50 361.95,373.69 364.00,374.84 366.05,375.13 368.10,376.16 370.15,377.94 372.20,379.00" fill="none" stroke="#6c9ee0" stroke-width="0.9" stroke-linejoin="round"/>
<rect x="315.75" y="334.41" width="2.90" height="2.90" fill="#9a72d8"/>
<rect x="317.85" y="345.04" width="2.90" height="2.90" fill="#9a72d8"/>
<rect x="319.90" y="344.20" width="2.90" height="2.90" fill="#9a72d8"/>
<rect x="321.95" y="343.95" width="2.90" height="2.90" fill="#9a72d8"/>
<rect x="324.00" y="345.09" width="2.90" height="2.90" fill="#9a72d8"/>
<rect x="326.05" y="343.64" width="2.90" height="2.90" fill="#9a72d8"/>
<rect x="328.10" y="343.91" width="2.90" height="2.90" fill="#9a72d8"/>
<rect x="330.15" y="344.91" width="2.90" height="2.90" fill="#9a72d8"/>
<rect x="332.20" y="345.15" width="2.90" height="2.90" fill="#9a72d8"/>
<rect x="334.25" y="346.41" width="2.90" height="2.90" fill="#9a72d8"/>
<rect x="336.30" y="346.66" width="2.90" height="2.90" fill="#9a72d8"/>
<rect x="338.35" y="346.75" width="2.90" height="2.90" fill="#9a72d8"/>
<rect x="340.40" y="347.59" width="2.90" height="2.90" fill="#9a72d8"/>
<rect x="342.45" y="349.25" width="2.90" height="2.90" fill="#9a72d8"/>
<rect x="344.50" y="352.24" width="2.90" height="2.90" fill="#9a72d8"/>
<rect x="346.55" y="353.86" width="2.90" height="2.90" fill="#9a72d8"/>
<rect x="348.60" y="354.47" width="2.90" height="2.90" fill="#9a72d8"/>
<rect x="350.65" y="357.47" width="2.90" height="2.90" fill="#9a72d8"/>
<rect x="352.70" y="358.89" width="2.90" height="2.90" fill="#9a72d8"/>
<rect x="354.75" y="361.29" width="2.90" height="2.90" fill="#9a72d8"/>
<rect x="356.80" y="362.32" width="2.90" height="2.90" fill="#9a72d8"/>
<rect x="358.85" y="363.63" width="2.90" height="2.90" fill="#9a72d8"/>
<rect x="360.90" y="366.18" width="2.90" height="2.90" fill="#9a72d8"/>
<rect x="362.95" y="368.19" width="2.90" height="2.90" fill="#9a72d8"/>
<rect x="365.00" y="369.58" width="2.90" height="2.90" fill="#9a72d8"/>
<rect x="367.05" y="371.55" width="2.90" height="2.90" fill="#9a72d8"/>
<rect x="369.10" y="372.34" width="2.90" height="2.90" fill="#9a72d8"/>
<rect x="371.15" y="372.88" width="2.90" height="2.90" fill="#9a72d8"/>
<circle cx="316.50" cy="357.54" r="1.45" fill="#5e92dc"/>
<circle cx="318.90" cy="363.42" r="1.45" fill="#5e92dc"/>
<circle cx="320.95" cy="360.53" r="1.45" fill="#5e92dc"/>
<circle cx="323.00" cy="358.94" r="1.45" fill="#5e92dc"/>
<circle cx="325.05" cy="358.32" r="1.45" fill="#5e92dc"/>
<circle cx="327.10" cy="357.22" r="1.45" fill="#5e92dc"/>
<circle cx="329.15" cy="357.70" r="1.45" fill="#5e92dc"/>
<circle cx="331.20" cy="358.38" r="1.45" fill="#5e92dc"/>
<circle cx="333.25" cy="358.79" r="1.45" fill="#5e92dc"/>
<circle cx="335.30" cy="360.10" r="1.45" fill="#5e92dc"/>
<circle cx="337.35" cy="360.14" r="1.45" fill="#5e92dc"/>
<circle cx="339.40" cy="362.32" r="1.45" fill="#5e92dc"/>
<circle cx="341.45" cy="363.30" r="1.45" fill="#5e92dc"/>
<circle cx="343.50" cy="364.17" r="1.45" fill="#5e92dc"/>
<circle cx="345.55" cy="364.25" r="1.45" fill="#5e92dc"/>
<circle cx="347.60" cy="366.26" r="1.45" fill="#5e92dc"/>
<circle cx="349.65" cy="366.50" r="1.45" fill="#5e92dc"/>
<circle cx="351.70" cy="367.43" r="1.45" fill="#5e92dc"/>
<circle cx="353.75" cy="368.87" r="1.45" fill="#5e92dc"/>
<circle cx="355.80" cy="369.57" r="1.45" fill="#5e92dc"/>
<circle cx="357.85" cy="370.58" r="1.45" fill="#5e92dc"/>
<circle cx="359.90" cy="372.50" r="1.45" fill="#5e92dc"/>
<circle cx="361.95" cy="373.69" r="1.45" fill="#5e92dc"/>
<circle cx="364.00" cy="374.84" r="1.45" fill="#5e92dc"/>
<circle cx="366.05" cy="375.13" r="1.45" fill="#5e92dc"/>
<circle cx="368.10" cy="376.16" r="1.45" fill="#5e92dc"/>
<circle cx="370.15" cy="377.94" r="1.45" fill="#5e92dc"/>
<circle cx="372.20" cy="379.00" r="1.45" fill="#5e92dc"/>
<line x1="352.30" y1="343.40" x2="359.50" y2="343.40" stroke="#a07fdc" stroke-width="0.8"/>
<rect x="354.60" y="342.10" width="2.60" height="2.60" fill="#9a72d8"/>
<text x="364.70" y="345.30" font-size="7.75" fill="#111">+ Forskolin</text>
<line x1="371.40" y1="359.10" x2="378.20" y2="359.10" stroke="#6c9ee0" stroke-width="0.8"/>
<circle cx="375.00" cy="359.10" r="1.35" fill="#5e92dc"/>
<text x="383.00" y="361.80" font-size="7.75" fill="#111">Control</text>
<line x1="358.90" y1="390.50" x2="373.00" y2="390.50" stroke="#111" stroke-width="1.0"/>
<text x="365.80" y="398.80" font-size="7.75" text-anchor="middle" fill="#111">1 min</text>
<line x1="314.70" y1="396.40" x2="314.70" y2="405.30" stroke="#111" stroke-width="1.1"/>
<path d="M314.70,394.30 L312.50,397.80 L316.90,397.80 Z" fill="#111"/>
<text x="305.80" y="414.60" font-size="7.75" fill="#111">15 mM Denatonium</text>
<text x="466.10" y="310.10" font-size="7.75" font-style="italic" fill="#1a1a1a">Beas-2B</text>
<text x="466.10" y="319.10" font-size="7.75" font-style="italic" fill="#1a1a1a">15 mM Denat.</text>
<line x1="463.50" y1="321.80" x2="463.50" y2="394.40" stroke="#2a2a2a" stroke-width="1.0"/>
<line x1="460.60" y1="394.40" x2="463.50" y2="394.40" stroke="#2a2a2a" stroke-width="1.0"/>
<text x="459.90" y="397.20" font-size="7.0" text-anchor="end" font-weight="bold" fill="#222">50</text>
<line x1="460.60" y1="376.25" x2="463.50" y2="376.25" stroke="#2a2a2a" stroke-width="1.0"/>
<text x="459.90" y="379.05" font-size="7.0" text-anchor="end" font-weight="bold" fill="#222">75</text>
<line x1="460.60" y1="358.10" x2="463.50" y2="358.10" stroke="#2a2a2a" stroke-width="1.0"/>
<text x="459.90" y="360.90" font-size="7.0" text-anchor="end" font-weight="bold" fill="#222">100</text>
<line x1="460.60" y1="339.95" x2="463.50" y2="339.95" stroke="#2a2a2a" stroke-width="1.0"/>
<text x="459.90" y="342.75" font-size="7.0" text-anchor="end" font-weight="bold" fill="#222">125</text>
<line x1="460.60" y1="321.80" x2="463.50" y2="321.80" stroke="#2a2a2a" stroke-width="1.0"/>
<text x="459.90" y="324.60" font-size="7.0" text-anchor="end" font-weight="bold" fill="#222">150</text>
<line x1="463.50" y1="394.40" x2="508.00" y2="394.40" stroke="#2a2a2a" stroke-width="1.0"/>
<line x1="477.40" y1="394.40" x2="477.40" y2="396.80" stroke="#2a2a2a" stroke-width="1.0"/>
<line x1="497.80" y1="394.40" x2="497.80" y2="396.80" stroke="#2a2a2a" stroke-width="1.0"/>
<line x1="477.35" y1="358.10" x2="477.35" y2="349.02" stroke="#86a6da" stroke-width="1.4"/>
<line x1="474.05" y1="349.02" x2="480.65" y2="349.02" stroke="#86a6da" stroke-width="1.4"/>
<rect x="471.10" y="358.80" width="12.50" height="34.90" fill="#79a4e0" stroke="#2c5db0" stroke-width="1.4"/>
<line x1="498.00" y1="345.03" x2="498.00" y2="342.49" stroke="#9a82d2" stroke-width="1.4"/>
<line x1="494.70" y1="342.49" x2="501.30" y2="342.49" stroke="#9a82d2" stroke-width="1.4"/>
<rect x="491.70" y="345.73" width="12.60" height="47.97" fill="#a383da" stroke="#5b2aa6" stroke-width="1.4"/>
<text x="497.60" y="338.50" font-size="7.75" text-anchor="middle" fill="#111">n.s.</text>
<text x="421.50" y="357.80" font-size="7.75" text-anchor="middle" fill="#111" transform="rotate(-90 421.5 357.8)">Peak Fluo-8</text>
<text x="431.40" y="357.80" font-size="7.75" text-anchor="middle" fill="#111" transform="rotate(-90 431.4 357.8)">Fluorescence (F/F<tspan dy="1.6" font-size="5">0</tspan><tspan dy="-1.6">)</tspan></text>
<text x="441.60" y="357.80" font-size="7.75" text-anchor="middle" fill="#111" transform="rotate(-90 441.6 357.8)">(Normalized to Control)</text>
<text x="464.40" y="409.40" font-size="7.75" text-anchor="end" fill="#111">20 µM Forskolin:</text>
<text x="479.00" y="409.20" font-size="7.75" text-anchor="middle" fill="#111">–</text>
<text x="497.60" y="409.20" font-size="7.75" text-anchor="middle" fill="#111">+</text>
<text x="8.20" y="451.00" font-size="22" font-weight="bold" fill="#000">f</text>
<text x="67.30" y="440.40" font-size="7.75" font-style="italic" fill="#1a1a1a">Beas-2B</text>
<text x="67.30" y="449.50" font-size="7.75" font-style="italic" fill="#1a1a1a">15 mM Denatonium</text>
<line x1="65.20" y1="451.60" x2="65.20" y2="524.40" stroke="#2a2a2a" stroke-width="1.0"/>
<line x1="62.00" y1="524.40" x2="65.20" y2="524.40" stroke="#2a2a2a" stroke-width="1.0"/>
<text x="61.10" y="527.08" font-size="6.7" text-anchor="end" font-weight="bold" fill="#222">40</text>
<line x1="62.00" y1="512.27" x2="65.20" y2="512.27" stroke="#2a2a2a" stroke-width="1.0"/>
<text x="61.10" y="514.95" font-size="6.7" text-anchor="end" font-weight="bold" fill="#222">50</text>
<line x1="62.00" y1="500.13" x2="65.20" y2="500.13" stroke="#2a2a2a" stroke-width="1.0"/>
<text x="61.10" y="502.81" font-size="6.7" text-anchor="end" font-weight="bold" fill="#222">60</text>
<line x1="62.00" y1="488.00" x2="65.20" y2="488.00" stroke="#2a2a2a" stroke-width="1.0"/>
<text x="61.10" y="490.68" font-size="6.7" text-anchor="end" font-weight="bold" fill="#222">70</text>
<line x1="62.00" y1="475.87" x2="65.20" y2="475.87" stroke="#2a2a2a" stroke-width="1.0"/>
<text x="61.10" y="478.55" font-size="6.7" text-anchor="end" font-weight="bold" fill="#222">80</text>
<line x1="62.00" y1="463.73" x2="65.20" y2="463.73" stroke="#2a2a2a" stroke-width="1.0"/>
<text x="61.10" y="466.41" font-size="6.7" text-anchor="end" font-weight="bold" fill="#222">90</text>
<line x1="62.00" y1="451.60" x2="65.20" y2="451.60" stroke="#2a2a2a" stroke-width="1.0"/>
<text x="61.10" y="454.28" font-size="6.7" text-anchor="end" font-weight="bold" fill="#222">100</text>
<line x1="65.20" y1="524.40" x2="110.50" y2="524.40" stroke="#2a2a2a" stroke-width="1.0"/>
<line x1="78.60" y1="524.40" x2="78.60" y2="526.80" stroke="#2a2a2a" stroke-width="1.0"/>
<line x1="99.50" y1="524.40" x2="99.50" y2="526.80" stroke="#2a2a2a" stroke-width="1.0"/>
<line x1="78.95" y1="501.35" x2="78.95" y2="492.25" stroke="#86a6da" stroke-width="1.4"/>
<line x1="75.70" y1="492.25" x2="82.20" y2="492.25" stroke="#86a6da" stroke-width="1.4"/>
<rect x="72.80" y="502.05" width="12.30" height="21.65" fill="#79a4e0" stroke="#2c5db0" stroke-width="1.4"/>
<line x1="99.40" y1="463.13" x2="99.40" y2="460.70" stroke="#9a82d2" stroke-width="1.4"/>
<line x1="96.15" y1="460.70" x2="102.65" y2="460.70" stroke="#9a82d2" stroke-width="1.4"/>
<rect x="93.10" y="463.83" width="12.60" height="59.87" fill="#a383da" stroke="#5b2aa6" stroke-width="1.4"/>
<text x="99.00" y="460.00" font-size="9.0" text-anchor="middle" font-weight="bold" fill="#111">**</text>
<text x="40.80" y="487.60" font-size="7.8" text-anchor="middle" fill="#111" transform="rotate(-90 40.8 487.6)">Cells Responding (%)</text>
<text x="65.20" y="539.30" font-size="7.75" text-anchor="end" fill="#111">20 µM Forskolin:</text>
<text x="79.10" y="539.20" font-size="7.75" text-anchor="middle" fill="#111">–</text>
<text x="99.70" y="539.20" font-size="7.75" text-anchor="middle" fill="#111">+</text>
<text x="202.40" y="440.30" font-size="7.75" font-style="italic" fill="#1a1a1a">Beas-2B</text>
<text x="202.40" y="449.00" font-size="7.75" font-style="italic" fill="#1a1a1a">15 mM Denatonium</text>
<line x1="199.20" y1="452.40" x2="199.20" y2="524.40" stroke="#2a2a2a" stroke-width="1.0"/>
<line x1="196.20" y1="524.40" x2="199.20" y2="524.40" stroke="#2a2a2a" stroke-width="1.0"/>
<text x="195.40" y="526.96" font-size="6.4" text-anchor="end" font-weight="bold" fill="#222">0</text>
<line x1="196.20" y1="500.40" x2="199.20" y2="500.40" stroke="#2a2a2a" stroke-width="1.0"/>
<text x="195.40" y="502.96" font-size="6.4" text-anchor="end" font-weight="bold" fill="#222">50</text>
<line x1="196.20" y1="476.40" x2="199.20" y2="476.40" stroke="#2a2a2a" stroke-width="1.0"/>
<text x="195.40" y="478.96" font-size="6.4" text-anchor="end" font-weight="bold" fill="#222">100</text>
<line x1="196.20" y1="452.40" x2="199.20" y2="452.40" stroke="#2a2a2a" stroke-width="1.0"/>
<text x="195.40" y="454.96" font-size="6.4" text-anchor="end" font-weight="bold" fill="#222">150</text>
<line x1="199.20" y1="524.40" x2="248.00" y2="524.40" stroke="#2a2a2a" stroke-width="1.0"/>
<line x1="212.90" y1="524.40" x2="212.90" y2="526.80" stroke="#2a2a2a" stroke-width="1.0"/>
<line x1="233.60" y1="524.40" x2="233.60" y2="526.80" stroke="#2a2a2a" stroke-width="1.0"/>
<line x1="212.70" y1="476.40" x2="212.70" y2="470.64" stroke="#86a6da" stroke-width="1.4"/>
<line x1="209.70" y1="470.64" x2="215.70" y2="470.64" stroke="#86a6da" stroke-width="1.4"/>
<rect x="206.60" y="477.10" width="12.20" height="46.60" fill="#79a4e0" stroke="#2c5db0" stroke-width="1.4"/>
<line x1="233.60" y1="467.76" x2="233.60" y2="466.32" stroke="#9a82d2" stroke-width="1.4"/>
<line x1="230.60" y1="466.32" x2="236.60" y2="466.32" stroke="#9a82d2" stroke-width="1.4"/>
<rect x="227.50" y="468.46" width="12.20" height="55.24" fill="#a383da" stroke="#5b2aa6" stroke-width="1.4"/>
<text x="233.40" y="461.60" font-size="7.75" text-anchor="middle" fill="#111">n.s.</text>
<text x="153.00" y="487.80" font-size="7.75" text-anchor="middle" fill="#111" transform="rotate(-90 153.0 487.8)">Peak Fluo-8</text>
<text x="161.20" y="487.80" font-size="7.75" text-anchor="middle" fill="#111" transform="rotate(-90 161.2 487.8)">Fluorescence</text>
<text x="169.60" y="487.80" font-size="7.75" text-anchor="middle" fill="#111" transform="rotate(-90 169.6 487.8)">per Responsive Cell</text>
<text x="178.30" y="487.80" font-size="7.75" text-anchor="middle" fill="#111" transform="rotate(-90 178.3 487.8)">(Normalized to Control)</text>
<text x="201.20" y="540.10" font-size="7.75" text-anchor="end" fill="#111">20 µM Forskolin:</text>
<text x="212.40" y="540.00" font-size="7.75" text-anchor="middle" fill="#111">–</text>
<text x="233.60" y="540.00" font-size="7.75" text-anchor="middle" fill="#111">+</text>
</svg></body></html>
